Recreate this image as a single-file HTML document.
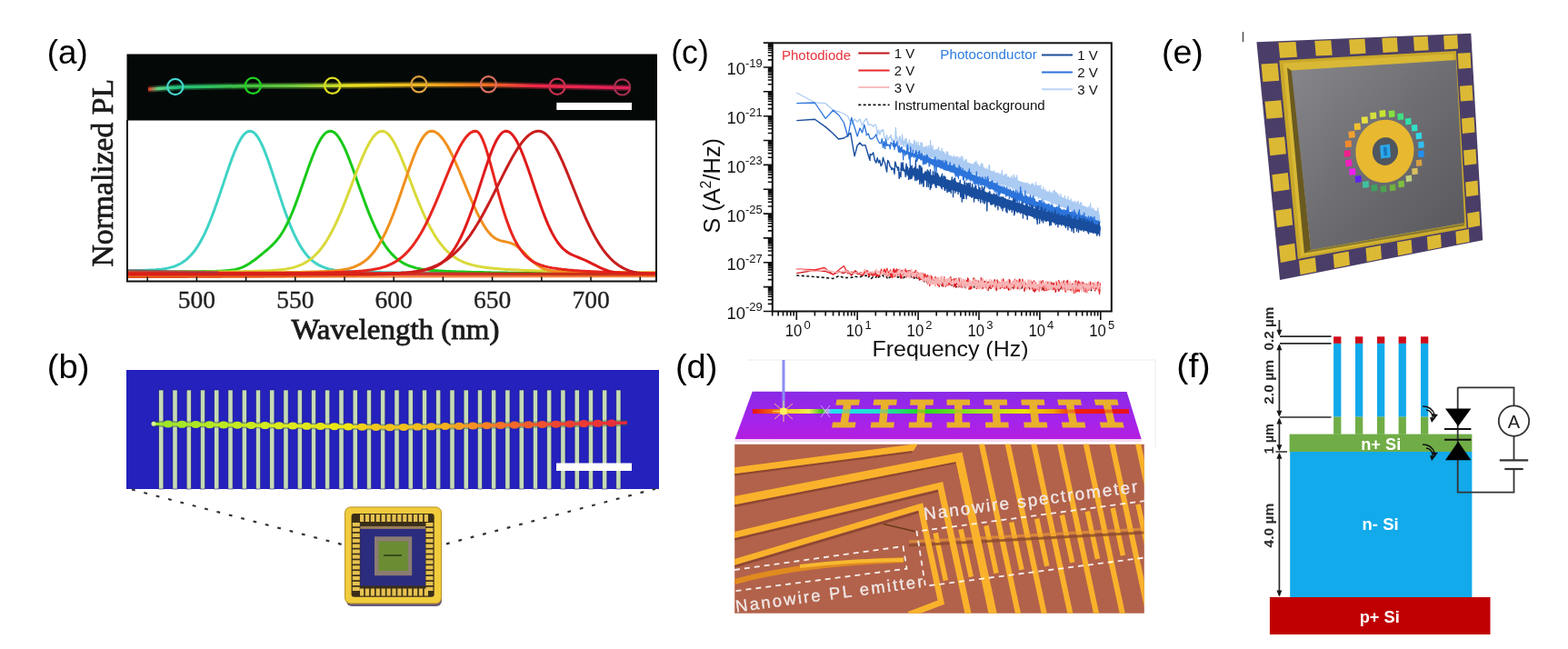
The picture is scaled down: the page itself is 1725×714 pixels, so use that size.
<!DOCTYPE html>
<html><head><meta charset="utf-8"><title>Figure</title>
<style>
html,body{margin:0;padding:0;background:#fff;}
body{width:1725px;height:714px;overflow:hidden;}
svg{display:block;}
</style></head><body>
<svg width="1725" height="714" viewBox="0 0 1725 714">
<rect width="1725" height="714" fill="#fff"/>
<rect x="139.5" y="59.5" width="583.5" height="73" fill="#040907"/><defs><linearGradient id="wireA" x1="163" y1="0" x2="694" y2="0" gradientUnits="userSpaceOnUse"><stop offset="0" stop-color="#e03020"/><stop offset="0.02" stop-color="#60d080"/><stop offset="0.06" stop-color="#20c080"/><stop offset="0.2" stop-color="#40c040"/><stop offset="0.3" stop-color="#70c840"/><stop offset="0.42" stop-color="#e8e020"/><stop offset="0.58" stop-color="#f0b020"/><stop offset="0.7" stop-color="#f07020"/><stop offset="0.8" stop-color="#f02848"/><stop offset="1" stop-color="#e0205a"/></linearGradient></defs><path d="M163,98.3 L200,95.8 L278,94.5 L365,94.2 L461,93.2 L537,93.2 L613,95 L694,96.8" fill="none" stroke="url(#wireA)" stroke-width="7" stroke-opacity="0.35"/><path d="M163,98.3 L200,95.8 L278,94.5 L365,94.2 L461,93.2 L537,93.2 L613,95 L694,96.8" fill="none" stroke="url(#wireA)" stroke-width="3.5"/><circle cx="192.8" cy="95.5" r="8.6" fill="none" stroke="#45d6d0" stroke-width="2.2"/><circle cx="278.3" cy="94.3" r="8.6" fill="none" stroke="#22d022" stroke-width="2.2"/><circle cx="365.7" cy="94.3" r="8.6" fill="none" stroke="#dede22" stroke-width="2.2"/><circle cx="460.9" cy="92.8" r="8.6" fill="none" stroke="#dca040" stroke-width="2.2"/><circle cx="537.4" cy="92.8" r="8.6" fill="none" stroke="#d87060" stroke-width="2.2"/><circle cx="613" cy="95.2" r="8.6" fill="none" stroke="#c83050" stroke-width="2.2"/><circle cx="684.6" cy="95.9" r="8.6" fill="none" stroke="#a83050" stroke-width="2.2"/><rect x="612.3" y="112.9" width="82.7" height="8.1" fill="#fff"/><polyline points="141,297.7 143,297.7 145,297.7 147,297.7 149,297.6 151,297.6 153,297.5 155,297.5 157,297.4 159,297.4 161,297.3 163,297.2 165,297.1 167,297 169,296.9 171,296.8 173,296.6 175,296.4 177,296.2 179,295.9 181,295.7 183,295.3 185,294.9 187,294.4 189,293.9 191,293.3 193,292.6 195,291.7 197,290.8 199,289.7 201,288.5 203,287.1 205,285.6 207,283.8 209,281.8 211,279.7 213,277.3 215,274.6 217,271.7 219,268.5 221,265 223,261.3 225,257.3 227,252.9 229,248.4 231,243.5 233,238.4 235,233.1 237,227.6 239,221.9 241,216.1 243,210.1 245,204.1 247,198.1 249,192.1 251,186.2 253,180.5 255,175 257,169.7 259,164.8 261,160.3 263,156.2 265,152.7 267,149.7 269,147.3 271,145.6 273,144.6 275,144.2 277,144.6 279,145.7 281,147.5 283,150 285,153.1 287,156.9 289,161.2 291,165.9 293,171.1 295,176.6 297,182.3 299,188.3 301,194.4 303,200.6 305,206.8 307,213 309,219.1 311,225.1 313,230.9 315,236.5 317,241.8 319,247 321,251.8 323,256.4 325,260.6 327,264.6 329,268.2 331,271.6 333,274.7 335,277.5 337,280.1 339,282.4 341,284.4 343,286.3 345,287.9 347,289.4 349,290.6 351,291.8 353,292.7 355,293.6 357,294.4 359,295 361,295.6 363,296.1 365,296.5 367,296.9 369,297.2 371,297.4 373,297.7 375,297.9 377,298.1 379,298.2 381,298.4 383,298.5 385,298.6 387,298.7 389,298.8 391,298.9 393,299 395,299 397,299.1 399,299.1 401,299.2 403,299.3 405,299.3 407,299.4 409,299.4 411,299.5 413,299.5 415,299.5 417,299.6 419,299.6 421,299.7 423,299.7 425,299.7 427,299.8 429,299.8 431,299.8 433,299.9 435,299.9 437,299.9 439,300 441,300 443,300 445,300.1 447,300.1 449,300.1 451,300.2 453,300.2 455,300.2 457,300.2 459,300.3 461,300.3 463,300.3 465,300.3 467,300.4 469,300.4 471,300.4 473,300.4 475,300.5 477,300.5 479,300.5 481,300.5 483,300.5 485,300.6 487,300.6 489,300.6 491,300.6 493,300.7 495,300.7 497,300.7 499,300.7 501,300.7 503,300.8 505,300.8 507,300.8 509,300.8 511,300.8 513,300.8 515,300.9 517,300.9 519,300.9 521,300.9 523,300.9 525,301 527,301 529,301 531,301 533,301 535,301 537,301.1 539,301.1 541,301.1 543,301.1 545,301.1 547,301.1 549,301.2 551,301.2 553,301.2 555,301.2 557,301.2 559,301.2 561,301.3 563,301.3 565,301.3 567,301.3 569,301.3 571,301.3 573,301.3 575,301.4 577,301.4 579,301.4 581,301.4 583,301.4 585,301.4 587,301.5 589,301.5 591,301.5 593,301.5 595,301.5 597,301.5 599,301.5 601,301.6 603,301.6 605,301.6 607,301.6 609,301.6 611,301.6 613,301.6 615,301.7 617,301.7 619,301.7 621,301.7 623,301.7 625,301.7 627,301.7 629,301.8 631,301.8 633,301.8 635,301.8 637,301.8 639,301.8 641,301.8 643,301.9 645,301.9 647,301.9 649,301.9 651,301.9 653,301.9 655,301.9 657,302 659,302 661,302 663,302 665,302 667,302 669,302 671,302.1 673,302.1 675,302.1 677,302.1 679,302.1 681,302.1 683,302.1 685,302.1 687,302.2 689,302.2 691,302.2 693,302.2 695,302.2 697,302.2 699,302.2 701,302.3 703,302.3 705,302.3 707,302.3 709,302.3 711,302.3 713,302.3 715,302.3 717,302.4 719,302.4 721,302.4" fill="none" stroke="#3fd3c6" stroke-width="3" stroke-linejoin="round"/><polyline points="141,299 143,299 145,299 147,299 149,299 151,299 153,299 155,299 157,299 159,299 161,299 163,299 165,299 167,299 169,299 171,299 173,299 175,299 177,298.9 179,298.9 181,298.9 183,298.9 185,298.9 187,298.9 189,298.9 191,298.9 193,298.9 195,298.9 197,298.9 199,298.8 201,298.8 203,298.8 205,298.8 207,298.8 209,298.8 211,298.8 213,298.7 215,298.7 217,298.7 219,298.7 221,298.7 223,298.6 225,298.6 227,298.6 229,298.5 231,298.5 233,298.5 235,298.4 237,298.4 239,298.3 241,298.3 243,298.2 245,298.1 247,298 249,297.8 251,297.6 253,297.4 255,297.1 257,296.8 259,296.4 261,295.9 263,295.3 265,294.6 267,293.8 269,292.9 271,291.9 273,290.7 275,289.5 277,288.1 279,286.7 281,285.2 283,283.7 285,282.1 287,280.5 289,278.9 291,277.2 293,275.5 295,273.8 297,272 299,270.1 301,268.2 303,266 305,263.7 307,261.1 309,258.3 311,255.2 313,251.8 315,248 317,244 319,239.6 321,235 323,230.1 325,224.9 327,219.5 329,214 331,208.3 333,202.5 335,196.7 337,190.9 339,185.3 341,179.7 343,174.4 345,169.3 347,164.5 349,160.1 351,156.2 353,152.7 355,149.8 357,147.5 359,145.7 361,144.6 363,144.2 365,144.4 367,145.3 369,146.8 371,148.9 373,151.6 375,154.9 377,158.6 379,162.7 381,167.2 383,172.1 385,177.2 387,182.5 389,188 391,193.6 393,199.2 395,204.9 397,210.6 399,216.1 401,221.6 403,226.9 405,232.1 407,237.1 409,241.9 411,246.5 413,250.9 415,255 417,258.9 419,262.5 421,265.9 423,269.1 425,272 427,274.7 429,277.1 431,279.4 433,281.4 435,283.3 437,285 439,286.5 441,287.8 443,289.1 445,290.2 447,291.1 449,292 451,292.8 453,293.4 455,294 457,294.6 459,295.1 461,295.5 463,295.9 465,296.2 467,296.5 469,296.7 471,297 473,297.2 475,297.4 477,297.5 479,297.7 481,297.8 483,298 485,298.1 487,298.2 489,298.3 491,298.4 493,298.5 495,298.6 497,298.7 499,298.7 501,298.8 503,298.9 505,299 507,299 509,299.1 511,299.1 513,299.2 515,299.3 517,299.3 519,299.4 521,299.4 523,299.5 525,299.5 527,299.6 529,299.6 531,299.6 533,299.7 535,299.7 537,299.8 539,299.8 541,299.9 543,299.9 545,299.9 547,300 549,300 551,300 553,300.1 555,300.1 557,300.1 559,300.2 561,300.2 563,300.2 565,300.3 567,300.3 569,300.3 571,300.3 573,300.4 575,300.4 577,300.4 579,300.4 581,300.5 583,300.5 585,300.5 587,300.5 589,300.6 591,300.6 593,300.6 595,300.6 597,300.7 599,300.7 601,300.7 603,300.7 605,300.7 607,300.8 609,300.8 611,300.8 613,300.8 615,300.8 617,300.9 619,300.9 621,300.9 623,300.9 625,300.9 627,301 629,301 631,301 633,301 635,301 637,301 639,301.1 641,301.1 643,301.1 645,301.1 647,301.1 649,301.1 651,301.2 653,301.2 655,301.2 657,301.2 659,301.2 661,301.2 663,301.3 665,301.3 667,301.3 669,301.3 671,301.3 673,301.3 675,301.3 677,301.4 679,301.4 681,301.4 683,301.4 685,301.4 687,301.4 689,301.4 691,301.5 693,301.5 695,301.5 697,301.5 699,301.5 701,301.5 703,301.5 705,301.5 707,301.6 709,301.6 711,301.6 713,301.6 715,301.6 717,301.6 719,301.6 721,301.6" fill="none" stroke="#19c919" stroke-width="3" stroke-linejoin="round"/><polyline points="141,299.5 143,299.5 145,299.5 147,299.5 149,299.5 151,299.5 153,299.5 155,299.5 157,299.5 159,299.5 161,299.5 163,299.5 165,299.5 167,299.4 169,299.4 171,299.4 173,299.4 175,299.4 177,299.4 179,299.4 181,299.4 183,299.4 185,299.4 187,299.4 189,299.4 191,299.4 193,299.4 195,299.3 197,299.3 199,299.3 201,299.3 203,299.3 205,299.3 207,299.3 209,299.3 211,299.3 213,299.2 215,299.2 217,299.2 219,299.2 221,299.2 223,299.2 225,299.2 227,299.1 229,299.1 231,299.1 233,299.1 235,299.1 237,299.1 239,299 241,299 243,299 245,299 247,298.9 249,298.9 251,298.9 253,298.9 255,298.8 257,298.8 259,298.8 261,298.8 263,298.7 265,298.7 267,298.7 269,298.6 271,298.6 273,298.5 275,298.5 277,298.4 279,298.4 281,298.3 283,298.3 285,298.2 287,298.1 289,298.1 291,298 293,297.9 295,297.8 297,297.7 299,297.6 301,297.4 303,297.3 305,297.1 307,296.9 309,296.7 311,296.5 313,296.2 315,295.9 317,295.5 319,295.1 321,294.7 323,294.2 325,293.6 327,292.9 329,292.2 331,291.4 333,290.5 335,289.4 337,288.3 339,287 341,285.6 343,284.1 345,282.4 347,280.5 349,278.4 351,276.2 353,273.8 355,271.1 357,268.3 359,265.3 361,262 363,258.5 365,254.8 367,250.9 369,246.8 371,242.5 373,238 375,233.4 377,228.5 379,223.6 381,218.5 383,213.3 385,208.1 387,202.8 389,197.5 391,192.2 393,187 395,182 397,177 399,172.3 401,167.8 403,163.6 405,159.7 407,156.1 409,153 411,150.2 413,148 415,146.3 417,145 419,144.4 421,144.2 423,144.7 425,145.8 427,147.4 429,149.7 431,152.5 433,155.7 435,159.4 437,163.5 439,167.8 441,172.5 443,177.4 445,182.4 447,187.5 449,192.8 451,198 453,203.3 455,208.5 457,213.6 459,218.7 461,223.6 463,228.4 465,233 467,237.5 469,241.7 471,245.8 473,249.7 475,253.3 477,256.8 479,260.1 481,263.1 483,266 485,268.6 487,271.1 489,273.4 491,275.5 493,277.4 495,279.2 497,280.8 499,282.3 501,283.6 503,284.9 505,286 507,287 509,287.9 511,288.8 513,289.5 515,290.2 517,290.8 519,291.4 521,291.9 523,292.3 525,292.8 527,293.1 529,293.5 531,293.8 533,294.1 535,294.4 537,294.6 539,294.9 541,295.1 543,295.3 545,295.4 547,295.6 549,295.8 551,295.9 553,296.1 555,296.2 557,296.4 559,296.5 561,296.6 563,296.7 565,296.8 567,296.9 569,297 571,297.1 573,297.2 575,297.3 577,297.4 579,297.5 581,297.6 583,297.6 585,297.7 587,297.8 589,297.8 591,297.9 593,298 595,298 597,298.1 599,298.2 601,298.2 603,298.3 605,298.3 607,298.4 609,298.4 611,298.5 613,298.5 615,298.6 617,298.6 619,298.7 621,298.7 623,298.8 625,298.8 627,298.9 629,298.9 631,298.9 633,299 635,299 637,299 639,299.1 641,299.1 643,299.1 645,299.2 647,299.2 649,299.2 651,299.3 653,299.3 655,299.3 657,299.4 659,299.4 661,299.4 663,299.4 665,299.5 667,299.5 669,299.5 671,299.6 673,299.6 675,299.6 677,299.6 679,299.6 681,299.7 683,299.7 685,299.7 687,299.7 689,299.8 691,299.8 693,299.8 695,299.8 697,299.8 699,299.9 701,299.9 703,299.9 705,299.9 707,299.9 709,299.9 711,300 713,300 715,300 717,300 719,300 721,300" fill="none" stroke="#d9d93a" stroke-width="3" stroke-linejoin="round"/><polyline points="141,300.7 143,300.7 145,300.7 147,300.7 149,300.7 151,300.7 153,300.7 155,300.7 157,300.7 159,300.7 161,300.7 163,300.7 165,300.6 167,300.6 169,300.6 171,300.6 173,300.6 175,300.6 177,300.6 179,300.6 181,300.6 183,300.6 185,300.6 187,300.6 189,300.6 191,300.6 193,300.6 195,300.5 197,300.5 199,300.5 201,300.5 203,300.5 205,300.5 207,300.5 209,300.5 211,300.5 213,300.5 215,300.5 217,300.5 219,300.4 221,300.4 223,300.4 225,300.4 227,300.4 229,300.4 231,300.4 233,300.4 235,300.4 237,300.4 239,300.3 241,300.3 243,300.3 245,300.3 247,300.3 249,300.3 251,300.3 253,300.3 255,300.3 257,300.2 259,300.2 261,300.2 263,300.2 265,300.2 267,300.2 269,300.2 271,300.1 273,300.1 275,300.1 277,300.1 279,300.1 281,300.1 283,300 285,300 287,300 289,300 291,300 293,299.9 295,299.9 297,299.9 299,299.9 301,299.8 303,299.8 305,299.8 307,299.8 309,299.7 311,299.7 313,299.7 315,299.6 317,299.6 319,299.6 321,299.6 323,299.5 325,299.5 327,299.4 329,299.4 331,299.4 333,299.3 335,299.3 337,299.2 339,299.2 341,299.1 343,299.1 345,299 347,299 349,298.9 351,298.8 353,298.7 355,298.7 357,298.6 359,298.5 361,298.4 363,298.2 365,298.1 367,297.9 369,297.8 371,297.6 373,297.3 375,297.1 377,296.8 379,296.4 381,296 383,295.6 385,295.1 387,294.5 389,293.8 391,293 393,292.2 395,291.2 397,290.1 399,288.8 401,287.4 403,285.8 405,284.1 407,282.1 409,279.9 411,277.5 413,274.9 415,272.1 417,268.9 419,265.6 421,261.9 423,258 425,253.9 427,249.4 429,244.8 431,239.8 433,234.7 435,229.4 437,223.9 439,218.2 441,212.5 443,206.6 445,200.7 447,194.9 449,189.1 451,183.4 453,177.9 455,172.6 457,167.6 459,162.9 461,158.7 463,154.9 465,151.6 467,148.9 469,146.7 471,145.2 473,144.4 475,144.2 477,144.5 479,145.3 481,146.5 483,148.2 485,150.2 487,152.7 489,155.5 491,158.6 493,162 495,165.8 497,169.7 499,173.9 501,178.3 503,182.9 505,187.5 507,192.3 509,197.1 511,201.9 513,206.8 515,211.6 517,216.4 519,221.1 521,225.6 523,230 525,234.3 527,238.3 529,242.2 531,245.8 533,249.1 535,252.1 537,254.8 539,257.1 541,259.2 543,260.9 545,262.3 547,263.4 549,264.2 551,264.9 553,265.3 555,265.8 557,266.1 559,266.6 561,267.1 563,267.8 565,268.7 567,269.8 569,271.2 571,272.7 573,274.5 575,276.4 577,278.4 579,280.5 581,282.6 583,284.6 585,286.6 587,288.4 589,290.1 591,291.6 593,293 595,294.1 597,295.1 599,296 601,296.6 603,297.2 605,297.6 607,298 609,298.3 611,298.5 613,298.7 615,298.8 617,298.9 619,299 621,299.1 623,299.2 625,299.2 627,299.3 629,299.3 631,299.3 633,299.4 635,299.4 637,299.4 639,299.5 641,299.5 643,299.5 645,299.5 647,299.6 649,299.6 651,299.6 653,299.6 655,299.6 657,299.7 659,299.7 661,299.7 663,299.7 665,299.7 667,299.7 669,299.8 671,299.8 673,299.8 675,299.8 677,299.8 679,299.8 681,299.8 683,299.8 685,299.8 687,299.9 689,299.9 691,299.9 693,299.9 695,299.9 697,299.9 699,299.9 701,299.9 703,299.9 705,299.9 707,299.9 709,300 711,300 713,300 715,300 717,300 719,300 721,300" fill="none" stroke="#f0901e" stroke-width="3" stroke-linejoin="round"/><polyline points="141,301.6 143,301.6 145,301.6 147,301.6 149,301.6 151,301.6 153,301.6 155,301.6 157,301.6 159,301.5 161,301.5 163,301.5 165,301.5 167,301.5 169,301.5 171,301.5 173,301.5 175,301.5 177,301.5 179,301.5 181,301.5 183,301.5 185,301.5 187,301.5 189,301.5 191,301.5 193,301.4 195,301.4 197,301.4 199,301.4 201,301.4 203,301.4 205,301.4 207,301.4 209,301.4 211,301.4 213,301.4 215,301.4 217,301.4 219,301.4 221,301.3 223,301.3 225,301.3 227,301.3 229,301.3 231,301.3 233,301.3 235,301.3 237,301.3 239,301.3 241,301.3 243,301.2 245,301.2 247,301.2 249,301.2 251,301.2 253,301.2 255,301.2 257,301.2 259,301.1 261,301.1 263,301.1 265,301.1 267,301.1 269,301.1 271,301.1 273,301.1 275,301 277,301 279,301 281,301 283,301 285,301 287,300.9 289,300.9 291,300.9 293,300.9 295,300.9 297,300.9 299,300.8 301,300.8 303,300.8 305,300.8 307,300.7 309,300.7 311,300.7 313,300.7 315,300.7 317,300.6 319,300.6 321,300.6 323,300.5 325,300.5 327,300.5 329,300.5 331,300.4 333,300.4 335,300.4 337,300.3 339,300.3 341,300.3 343,300.2 345,300.2 347,300.1 349,300.1 351,300.1 353,300 355,300 357,299.9 359,299.9 361,299.8 363,299.8 365,299.7 367,299.7 369,299.6 371,299.5 373,299.5 375,299.4 377,299.3 379,299.2 381,299.2 383,299.1 385,299 387,298.9 389,298.7 391,298.6 393,298.5 395,298.3 397,298.2 399,298 401,297.8 403,297.6 405,297.3 407,297.1 409,296.8 411,296.4 413,296 415,295.6 417,295.2 419,294.7 421,294.1 423,293.5 425,292.8 427,292 429,291.1 431,290.2 433,289.1 435,288 437,286.7 439,285.3 441,283.8 443,282.2 445,280.4 447,278.4 449,276.3 451,274 453,271.6 455,269 457,266.2 459,263.2 461,260 463,256.7 465,253.2 467,249.5 469,245.6 471,241.5 473,237.3 475,232.9 477,228.4 479,223.8 481,219.1 483,214.3 485,209.4 487,204.5 489,199.5 491,194.6 493,189.7 495,184.9 497,180.2 499,175.6 501,171.2 503,167.1 505,163.1 507,159.5 509,156.1 511,153.1 513,150.5 515,148.4 517,146.6 519,145.3 521,144.5 523,144.2 525,144.7 527,146.5 529,149.5 531,153.6 533,158.7 535,164.6 537,171.2 539,178.2 541,185.5 543,192.9 545,200.4 547,207.8 549,215.1 551,222.1 553,228.8 555,235.2 557,241.2 559,246.8 561,252.1 563,256.9 565,261.3 567,265.3 569,268.9 571,272.2 573,275.1 575,277.7 577,280 579,282.1 581,283.9 583,285.5 585,286.9 587,288.1 589,289.2 591,290.1 593,290.9 595,291.7 597,292.3 599,292.9 601,293.4 603,293.9 605,294.3 607,294.7 609,295 611,295.3 613,295.6 615,295.9 617,296.1 619,296.4 621,296.6 623,296.8 625,297 627,297.2 629,297.3 631,297.5 633,297.7 635,297.8 637,297.9 639,298.1 641,298.2 643,298.3 645,298.4 647,298.5 649,298.6 651,298.7 653,298.8 655,298.9 657,299 659,299.1 661,299.2 663,299.3 665,299.3 667,299.4 669,299.5 671,299.5 673,299.6 675,299.7 677,299.7 679,299.8 681,299.8 683,299.9 685,299.9 687,300 689,300 691,300.1 693,300.1 695,300.2 697,300.2 699,300.2 701,300.3 703,300.3 705,300.4 707,300.4 709,300.4 711,300.5 713,300.5 715,300.5 717,300.5 719,300.6 721,300.6" fill="none" stroke="#e8261e" stroke-width="3" stroke-linejoin="round"/><polyline points="141,303.3 143,303.3 145,303.3 147,303.3 149,303.3 151,303.2 153,303.2 155,303.2 157,303.2 159,303.2 161,303.2 163,303.2 165,303.2 167,303.2 169,303.2 171,303.2 173,303.2 175,303.2 177,303.2 179,303.2 181,303.2 183,303.2 185,303.1 187,303.1 189,303.1 191,303.1 193,303.1 195,303.1 197,303.1 199,303.1 201,303.1 203,303.1 205,303.1 207,303.1 209,303.1 211,303.1 213,303 215,303 217,303 219,303 221,303 223,303 225,303 227,303 229,303 231,303 233,303 235,303 237,303 239,302.9 241,302.9 243,302.9 245,302.9 247,302.9 249,302.9 251,302.9 253,302.9 255,302.9 257,302.9 259,302.9 261,302.9 263,302.8 265,302.8 267,302.8 269,302.8 271,302.8 273,302.8 275,302.8 277,302.8 279,302.8 281,302.8 283,302.7 285,302.7 287,302.7 289,302.7 291,302.7 293,302.7 295,302.7 297,302.7 299,302.7 301,302.6 303,302.6 305,302.6 307,302.6 309,302.6 311,302.6 313,302.6 315,302.5 317,302.5 319,302.5 321,302.5 323,302.5 325,302.5 327,302.5 329,302.4 331,302.4 333,302.4 335,302.4 337,302.4 339,302.4 341,302.3 343,302.3 345,302.3 347,302.3 349,302.3 351,302.2 353,302.2 355,302.2 357,302.2 359,302.2 361,302.1 363,302.1 365,302.1 367,302.1 369,302 371,302 373,302 375,302 377,301.9 379,301.9 381,301.9 383,301.8 385,301.8 387,301.8 389,301.7 391,301.7 393,301.7 395,301.6 397,301.6 399,301.6 401,301.5 403,301.5 405,301.4 407,301.4 409,301.3 411,301.3 413,301.3 415,301.2 417,301.1 419,301.1 421,301 423,301 425,300.9 427,300.8 429,300.8 431,300.7 433,300.6 435,300.5 437,300.5 439,300.4 441,300.3 443,300.1 445,300 447,299.9 449,299.8 451,299.6 453,299.4 455,299.2 457,299 459,298.8 461,298.5 463,298.2 465,297.8 467,297.4 469,296.9 471,296.4 473,295.8 475,295.1 477,294.3 479,293.4 481,292.4 483,291.2 485,289.9 487,288.4 489,286.7 491,284.8 493,282.8 495,280.4 497,277.9 499,275 501,272 503,268.6 505,264.9 507,261 509,256.7 511,252.2 513,247.4 515,242.3 517,236.9 519,231.4 521,225.6 523,219.6 525,213.5 527,207.3 529,201.1 531,194.9 533,188.7 535,182.7 537,176.9 539,171.3 541,166 543,161.2 545,156.8 547,153 549,149.9 551,147.3 553,145.5 555,144.5 557,144.2 559,144.6 561,145.7 563,147.5 565,149.9 567,152.8 569,156.3 571,160.3 573,164.7 575,169.6 577,174.7 579,180.2 581,185.8 583,191.6 585,197.5 587,203.5 589,209.4 591,215.3 593,221.1 595,226.7 597,232.2 599,237.4 601,242.4 603,247.1 605,251.5 607,255.6 609,259.3 611,262.7 613,265.8 615,268.5 617,271 619,273.1 621,274.9 623,276.5 625,277.9 627,279.1 629,280.1 631,281 633,281.9 635,282.7 637,283.5 639,284.3 641,285.1 643,286 645,286.9 647,287.8 649,288.8 651,289.8 653,290.8 655,291.8 657,292.9 659,293.8 661,294.8 663,295.7 665,296.5 667,297.2 669,297.9 671,298.5 673,299 675,299.5 677,299.9 679,300.2 681,300.5 683,300.7 685,300.9 687,301 689,301.1 691,301.2 693,301.3 695,301.4 697,301.4 699,301.5 701,301.5 703,301.6 705,301.6 707,301.6 709,301.6 711,301.7 713,301.7 715,301.7 717,301.7 719,301.7 721,301.7" fill="none" stroke="#e01a1a" stroke-width="3" stroke-linejoin="round"/><polyline points="141,304.6 143,304.6 145,304.6 147,304.6 149,304.6 151,304.6 153,304.6 155,304.6 157,304.6 159,304.6 161,304.6 163,304.6 165,304.5 167,304.5 169,304.5 171,304.5 173,304.5 175,304.5 177,304.5 179,304.5 181,304.5 183,304.5 185,304.5 187,304.4 189,304.4 191,304.4 193,304.4 195,304.4 197,304.4 199,304.4 201,304.4 203,304.4 205,304.4 207,304.3 209,304.3 211,304.3 213,304.3 215,304.3 217,304.3 219,304.3 221,304.3 223,304.3 225,304.3 227,304.2 229,304.2 231,304.2 233,304.2 235,304.2 237,304.2 239,304.2 241,304.2 243,304.2 245,304.1 247,304.1 249,304.1 251,304.1 253,304.1 255,304.1 257,304.1 259,304.1 261,304 263,304 265,304 267,304 269,304 271,304 273,304 275,304 277,303.9 279,303.9 281,303.9 283,303.9 285,303.9 287,303.9 289,303.9 291,303.8 293,303.8 295,303.8 297,303.8 299,303.8 301,303.8 303,303.7 305,303.7 307,303.7 309,303.7 311,303.7 313,303.7 315,303.6 317,303.6 319,303.6 321,303.6 323,303.6 325,303.5 327,303.5 329,303.5 331,303.5 333,303.5 335,303.4 337,303.4 339,303.4 341,303.4 343,303.4 345,303.3 347,303.3 349,303.3 351,303.3 353,303.2 355,303.2 357,303.2 359,303.2 361,303.1 363,303.1 365,303.1 367,303.1 369,303 371,303 373,303 375,302.9 377,302.9 379,302.9 381,302.9 383,302.8 385,302.8 387,302.8 389,302.7 391,302.7 393,302.6 395,302.6 397,302.6 399,302.5 401,302.5 403,302.4 405,302.4 407,302.3 409,302.3 411,302.2 413,302.2 415,302.1 417,302 419,302 421,301.9 423,301.8 425,301.7 427,301.6 429,301.5 431,301.4 433,301.3 435,301.2 437,301 439,300.9 441,300.7 443,300.6 445,300.4 447,300.2 449,299.9 451,299.7 453,299.4 455,299.1 457,298.8 459,298.4 461,298 463,297.6 465,297.1 467,296.6 469,296.1 471,295.5 473,294.8 475,294.1 477,293.3 479,292.5 481,291.6 483,290.6 485,289.6 487,288.4 489,287.2 491,285.9 493,284.5 495,283 497,281.4 499,279.7 501,277.8 503,275.9 505,273.9 507,271.7 509,269.4 511,267 513,264.5 515,261.8 517,259.1 519,256.2 521,253.2 523,250 525,246.8 527,243.4 529,240 531,236.4 533,232.8 535,229 537,225.2 539,221.4 541,217.4 543,213.5 545,209.5 547,205.4 549,201.4 551,197.4 553,193.4 555,189.4 557,185.5 559,181.7 561,177.9 563,174.3 565,170.8 567,167.4 569,164.2 571,161.2 573,158.3 575,155.7 577,153.3 579,151.2 581,149.3 583,147.7 585,146.4 587,145.4 589,144.7 591,144.3 593,144.2 595,144.5 597,145.3 599,146.4 601,148 603,150 605,152.4 607,155.2 609,158.3 611,161.8 613,165.5 615,169.5 617,173.8 619,178.2 621,182.8 623,187.6 625,192.5 627,197.5 629,202.5 631,207.5 633,212.5 635,217.5 637,222.5 639,227.4 641,232.1 643,236.8 645,241.3 647,245.6 649,249.8 651,253.9 653,257.7 655,261.4 657,264.8 659,268.1 661,271.2 663,274.1 665,276.8 667,279.3 669,281.6 671,283.8 673,285.8 675,287.6 677,289.3 679,290.8 681,292.2 683,293.4 685,294.6 687,295.6 689,296.5 691,297.3 693,298.1 695,298.7 697,299.3 699,299.8 701,300.3 703,300.7 705,301 707,301.3 709,301.6 711,301.8 713,302 715,302.2 717,302.4 719,302.5 721,302.6" fill="none" stroke="#c81e1e" stroke-width="3" stroke-linejoin="round"/><path d="M141,300.5 C250,301.5 450,302.5 721,302" stroke="#d82018" stroke-width="4" fill="none" opacity="0.9"/><path d="M141,297.5 C180,298 200,299 240,299.5" stroke="#a03048" stroke-width="2.5" fill="none" opacity="0.7"/><path d="M141,304.5 C250,305 450,304.5 721,304" stroke="#f06a1a" stroke-width="2.5" fill="none" opacity="0.8"/><path d="M140,132 V309.5 H722 V132" fill="none" stroke="#111" stroke-width="2"/><path d="M162.2,309.5 v-5 M216.4,309.5 v-5 M270.6,309.5 v-5 M324.8,309.5 v-5 M379,309.5 v-5 M433.2,309.5 v-5 M487.4,309.5 v-5 M541.6,309.5 v-5 M595.8,309.5 v-5 M650,309.5 v-5 M704.2,309.5 v-5" stroke="#111" stroke-width="1.5"/><text x="216.4" y="339" text-anchor="middle" font-family="'Liberation Serif', 'Times New Roman', serif" font-size="27.5" fill="#222" stroke="#222" stroke-width="0.35">500</text><text x="324.8" y="339" text-anchor="middle" font-family="'Liberation Serif', 'Times New Roman', serif" font-size="27.5" fill="#222" stroke="#222" stroke-width="0.35">550</text><text x="433.2" y="339" text-anchor="middle" font-family="'Liberation Serif', 'Times New Roman', serif" font-size="27.5" fill="#222" stroke="#222" stroke-width="0.35">600</text><text x="541.6" y="339" text-anchor="middle" font-family="'Liberation Serif', 'Times New Roman', serif" font-size="27.5" fill="#222" stroke="#222" stroke-width="0.35">650</text><text x="650" y="339" text-anchor="middle" font-family="'Liberation Serif', 'Times New Roman', serif" font-size="27.5" fill="#222" stroke="#222" stroke-width="0.35">700</text><text x="320.4" y="373.3" font-family="'Liberation Serif', 'Times New Roman', serif" font-size="32" fill="#1a1a1a" stroke="#1a1a1a" stroke-width="0.85" textLength="229" lengthAdjust="spacingAndGlyphs">Wavelength (nm)</text><text transform="translate(124.4,293.5) rotate(-90)" x="0" y="0" font-family="'Liberation Serif', 'Times New Roman', serif" font-size="33" fill="#1a1a1a" stroke="#1a1a1a" stroke-width="0.7" textLength="206.5" lengthAdjust="spacingAndGlyphs">Normalized PL</text><rect x="139" y="407" width="586" height="131" fill="#2421bd"/><g fill="#c6dab4" stroke="#1a1a80" stroke-width="0.6"><rect x="174.7" y="429" width="5.2" height="109"/><rect x="189.9" y="429" width="5.2" height="109"/><rect x="205.2" y="429" width="5.2" height="109"/><rect x="220.4" y="429" width="5.2" height="109"/><rect x="235.7" y="429" width="5.2" height="109"/><rect x="250.9" y="429" width="5.2" height="109"/><rect x="266.2" y="429" width="5.2" height="109"/><rect x="281.4" y="429" width="5.2" height="109"/><rect x="296.7" y="429" width="5.2" height="109"/><rect x="311.9" y="429" width="5.2" height="109"/><rect x="327.2" y="429" width="5.2" height="109"/><rect x="342.4" y="429" width="5.2" height="109"/><rect x="357.6" y="429" width="5.2" height="109"/><rect x="372.9" y="429" width="5.2" height="109"/><rect x="388.1" y="429" width="5.2" height="109"/><rect x="403.4" y="429" width="5.2" height="109"/><rect x="418.6" y="429" width="5.2" height="109"/><rect x="433.9" y="429" width="5.2" height="109"/><rect x="449.1" y="429" width="5.2" height="109"/><rect x="464.4" y="429" width="5.2" height="109"/><rect x="479.6" y="429" width="5.2" height="109"/><rect x="494.9" y="429" width="5.2" height="109"/><rect x="510.1" y="429" width="5.2" height="109"/><rect x="525.3" y="429" width="5.2" height="109"/><rect x="540.6" y="429" width="5.2" height="109"/><rect x="555.8" y="429" width="5.2" height="109"/><rect x="571.1" y="429" width="5.2" height="109"/><rect x="586.3" y="429" width="5.2" height="109"/><rect x="601.6" y="429" width="5.2" height="109"/><rect x="616.8" y="429" width="5.2" height="109"/><rect x="632.1" y="429" width="5.2" height="109"/><rect x="647.3" y="429" width="5.2" height="109"/><rect x="662.6" y="429" width="5.2" height="109"/><rect x="677.8" y="429" width="5.2" height="109"/></g><defs><linearGradient id="wireB" x1="167" y1="0" x2="690" y2="0" gradientUnits="userSpaceOnUse"><stop offset="0" stop-color="#96e628"/><stop offset="0.25" stop-color="#d7eb1e"/><stop offset="0.42" stop-color="#f0e614"/><stop offset="0.45" stop-color="#f0c81e"/><stop offset="0.6" stop-color="#f5b91e"/><stop offset="0.72" stop-color="#f57828"/><stop offset="0.85" stop-color="#f04632"/><stop offset="1" stop-color="#e6283c"/></linearGradient></defs><path d="M168,466.3 L395,469.6 L430,470.2 L690,465.2" fill="none" stroke="#3a5a30" stroke-width="7" opacity="0.45"/><path d="M168,466.3 L395,469.6 L430,470.2 L690,465.2" fill="none" stroke="url(#wireB)" stroke-width="3.2"/><g><ellipse cx="184.9" cy="466.5" rx="5.8" ry="4" fill="#9ee626"/><ellipse cx="200.2" cy="466.8" rx="5.8" ry="4" fill="#a6e725"/><ellipse cx="215.4" cy="467" rx="5.8" ry="4" fill="#ade724"/><ellipse cx="230.7" cy="467.2" rx="5.8" ry="4" fill="#b5e823"/><ellipse cx="245.9" cy="467.4" rx="5.8" ry="4" fill="#bce822"/><ellipse cx="261.1" cy="467.7" rx="5.8" ry="4" fill="#c4e920"/><ellipse cx="276.4" cy="467.9" rx="5.8" ry="4" fill="#cbea1f"/><ellipse cx="291.6" cy="468.1" rx="5.8" ry="4" fill="#d3ea1e"/><ellipse cx="306.9" cy="468.3" rx="5.8" ry="4" fill="#d9ea1d"/><ellipse cx="322.1" cy="468.5" rx="5.8" ry="4" fill="#dde91b"/><ellipse cx="337.4" cy="468.8" rx="5.8" ry="4" fill="#e1e819"/><ellipse cx="352.6" cy="469" rx="5.8" ry="4" fill="#e6e717"/><ellipse cx="367.9" cy="469.2" rx="5.8" ry="4" fill="#eae716"/><ellipse cx="383.1" cy="469.4" rx="5.8" ry="4" fill="#eee614"/><ellipse cx="398.4" cy="469.7" rx="5.8" ry="4" fill="#f0d01b"/><ellipse cx="413.6" cy="469.9" rx="5.8" ry="4" fill="#f0c51e"/><ellipse cx="428.9" cy="470.2" rx="5.8" ry="4" fill="#f1c31e"/><ellipse cx="444.1" cy="469.9" rx="5.8" ry="4" fill="#f2c01e"/><ellipse cx="459.3" cy="469.6" rx="5.8" ry="4" fill="#f3bd1e"/><ellipse cx="474.6" cy="469.3" rx="5.8" ry="4" fill="#f4ba1e"/><ellipse cx="489.8" cy="469" rx="5.8" ry="4" fill="#f5b01f"/><ellipse cx="505.1" cy="468.8" rx="5.8" ry="4" fill="#f5a021"/><ellipse cx="520.3" cy="468.5" rx="5.8" ry="4" fill="#f59024"/><ellipse cx="535.6" cy="468.2" rx="5.8" ry="4" fill="#f58026"/><ellipse cx="550.8" cy="467.9" rx="5.8" ry="4" fill="#f47229"/><ellipse cx="566.1" cy="467.6" rx="5.8" ry="4" fill="#f3672b"/><ellipse cx="581.3" cy="467.3" rx="5.8" ry="4" fill="#f25c2d"/><ellipse cx="596.5" cy="467" rx="5.8" ry="4" fill="#f1512f"/><ellipse cx="611.8" cy="466.7" rx="5.8" ry="4" fill="#ef4532"/><ellipse cx="627" cy="466.4" rx="5.8" ry="4" fill="#ee4033"/><ellipse cx="642.3" cy="466.1" rx="5.8" ry="4" fill="#ec3a35"/><ellipse cx="657.5" cy="465.8" rx="5.8" ry="4" fill="#ea3437"/><ellipse cx="672.8" cy="465.5" rx="5.8" ry="4" fill="#e82e39"/></g><circle cx="169" cy="466.3" r="2.5" fill="#d8ff90"/><rect x="612" y="509.5" width="83" height="8.5" fill="#fff"/><path d="M145,538.5 L376,599" stroke="#333" stroke-width="2.2" stroke-dasharray="3.8,10" fill="none"/><path d="M491,598.4 L721,537.8" stroke="#333" stroke-width="2.2" stroke-dasharray="3.8,10" fill="none"/><rect x="381" y="561" width="105" height="106" rx="6" fill="#6b5a78"/><rect x="379.6" y="557.9" width="105.9" height="106" rx="6" fill="#f0cc3c" stroke="#b89020" stroke-width="1"/><rect x="386.6" y="564.9" width="91.1" height="91.9" rx="3" fill="#3a2e18"/><g fill="#e6c250"><rect x="396" y="566" width="4.2" height="8"/><rect x="396" y="647.5" width="4.2" height="8"/><rect x="401.9" y="566" width="4.2" height="8"/><rect x="401.9" y="647.5" width="4.2" height="8"/><rect x="407.8" y="566" width="4.2" height="8"/><rect x="407.8" y="647.5" width="4.2" height="8"/><rect x="413.7" y="566" width="4.2" height="8"/><rect x="413.7" y="647.5" width="4.2" height="8"/><rect x="419.6" y="566" width="4.2" height="8"/><rect x="419.6" y="647.5" width="4.2" height="8"/><rect x="425.5" y="566" width="4.2" height="8"/><rect x="425.5" y="647.5" width="4.2" height="8"/><rect x="431.4" y="566" width="4.2" height="8"/><rect x="431.4" y="647.5" width="4.2" height="8"/><rect x="437.3" y="566" width="4.2" height="8"/><rect x="437.3" y="647.5" width="4.2" height="8"/><rect x="443.2" y="566" width="4.2" height="8"/><rect x="443.2" y="647.5" width="4.2" height="8"/><rect x="449.1" y="566" width="4.2" height="8"/><rect x="449.1" y="647.5" width="4.2" height="8"/><rect x="455" y="566" width="4.2" height="8"/><rect x="455" y="647.5" width="4.2" height="8"/><rect x="460.9" y="566" width="4.2" height="8"/><rect x="460.9" y="647.5" width="4.2" height="8"/><rect x="466.8" y="566" width="4.2" height="8"/><rect x="466.8" y="647.5" width="4.2" height="8"/><rect x="387.8" y="575" width="8" height="4.2"/><rect x="468.5" y="575" width="8" height="4.2"/><rect x="387.8" y="580.9" width="8" height="4.2"/><rect x="468.5" y="580.9" width="8" height="4.2"/><rect x="387.8" y="586.8" width="8" height="4.2"/><rect x="468.5" y="586.8" width="8" height="4.2"/><rect x="387.8" y="592.7" width="8" height="4.2"/><rect x="468.5" y="592.7" width="8" height="4.2"/><rect x="387.8" y="598.6" width="8" height="4.2"/><rect x="468.5" y="598.6" width="8" height="4.2"/><rect x="387.8" y="604.5" width="8" height="4.2"/><rect x="468.5" y="604.5" width="8" height="4.2"/><rect x="387.8" y="610.4" width="8" height="4.2"/><rect x="468.5" y="610.4" width="8" height="4.2"/><rect x="387.8" y="616.3" width="8" height="4.2"/><rect x="468.5" y="616.3" width="8" height="4.2"/><rect x="387.8" y="622.2" width="8" height="4.2"/><rect x="468.5" y="622.2" width="8" height="4.2"/><rect x="387.8" y="628.1" width="8" height="4.2"/><rect x="468.5" y="628.1" width="8" height="4.2"/><rect x="387.8" y="634" width="8" height="4.2"/><rect x="468.5" y="634" width="8" height="4.2"/><rect x="387.8" y="639.9" width="8" height="4.2"/><rect x="468.5" y="639.9" width="8" height="4.2"/><rect x="387.8" y="645.8" width="8" height="4.2"/><rect x="468.5" y="645.8" width="8" height="4.2"/></g><rect x="396.3" y="578.9" width="71.7" height="65.6" fill="#2c2c7e"/><rect x="396.3" y="578.9" width="71.7" height="3" fill="#c8a048" opacity="0.7"/><rect x="412" y="590.3" width="41.2" height="42.9" fill="#8a7c72"/><rect x="416.4" y="595.5" width="32.4" height="32.5" fill="#6c8c34"/><path d="M422,611 h20" stroke="#2a3a10" stroke-width="1.5"/><defs><clipPath id="clipC"><rect x="849.8" y="47.3" width="373.0" height="295.2"/></clipPath></defs><g clip-path="url(#clipC)" fill="none" stroke-linejoin="round"><polyline points="876.3,303 896.4,304.5 908.2,305.5 916.6,306.5 923.1,303.5 928.4,305.6 937.7,305.3 938.9,304 942.3,304.5 945.3,304.9 948,304 950.4,303.7 952.7,302.9 954.8,305.6 956.7,303.3 958.6,306.3 960.3,304.8 961.9,304.9 963.4,305.2 964.9,302.9 966.2,305.1 967.6,304.1 968.8,304.7 970,303.7 971.2,302.8 972.4,304.9 973.6,304.4 974.8,304 976,305.8 977.2,304.1 978.4,305.5 979.6,304.5 980.8,304.7 982,304.9 983.2,303.5 984.4,303.7 985.6,305.2 986.8,304.8 988,305.1 989.2,304.4 990.4,306.2 991.6,304.6 992.8,303.6 994,305.8 995.2,304.5 996.4,304.3 997.6,302.9 998.8,302.3 1000,303.7 1001.2,302.5 1002.4,304.7 1003.6,302.9 1004.8,305.1 1006,306.1 1007.2,304 1008.4,305.8 1009.6,305.9 1010.8,304.6 1012,305.8 1013.2,306.5 1014.4,305.9 1015.6,307.6 1016.8,309.7 1018,308.9 1019.2,308.3 1020.4,311.1 1021.6,311.5 1022.8,309.7 1024,310 1025.2,308.8 1026.4,309.5 1027.6,309.7 1028.8,309.2 1030,310.1 1031.2,311.3 1032.4,311 1033.6,310.7 1034.8,310.6 1036,314 1037.2,311.9 1038.4,310.1 1039.6,311.3 1040.8,312.3 1042,312.4 1043.2,311.7 1044.4,311.6 1045.6,314 1046.8,314.3 1048,312 1049.2,312.9 1050.4,314 1051.6,312.2 1052.8,315.4 1054,315.1 1055.2,315 1056.4,313.1 1057.6,312.3 1058.8,312.2 1060,313.9 1061.2,315 1062.4,316.4 1063.6,314.9 1064.8,312.8 1066,312.7 1067.2,315.5 1068.4,315.1 1069.6,315.4 1070.8,313.7 1072,316.1 1073.2,315 1074.4,314.4 1075.6,314.8 1076.8,315.4 1078,315.4 1079.2,314.3 1080.4,312.8 1081.6,316.4 1082.8,314.6 1084,316.3 1085.2,314.5 1086.4,312.7 1087.6,316.4 1088.8,316 1090,315.7 1091.2,315 1092.4,313.8 1093.6,314.6 1094.8,314.2 1096,315.2 1097.2,314.6 1098.4,316.4 1099.6,316 1100.8,315.3 1102,314.1 1103.2,314.4 1104.4,314.8 1105.6,314.5 1106.8,316.1 1108,315.1 1109.2,316.3 1110.4,314.7 1111.6,314.4 1112.8,316.3 1114,316.4 1115.2,316.5 1116.4,316 1117.6,316.2 1118.8,315.7 1120,316.8 1121.2,317.3 1122.4,316.4 1123.6,317.2 1124.8,315.9 1126,314.9 1127.2,314.3 1128.4,315.4 1129.6,317.8 1130.8,315.8 1132,315.7 1133.2,318.3 1134.4,316.7 1135.6,316 1136.8,318.4 1138,315.3 1139.2,316 1140.4,315.2 1141.6,315.8 1142.8,316.5 1144,314.9 1145.2,316.9 1146.4,316.7 1147.6,318.5 1148.8,315.1 1150,316.2 1151.2,315.2 1152.4,317.6 1153.6,317 1154.8,317 1156,317.6 1157.2,314.8 1158.4,317.2 1159.6,317 1160.8,318.1 1162,316.9 1163.2,316.9 1164.4,316.6 1165.6,318.4 1166.8,315.7 1168,316.7 1169.2,315.5 1170.4,315.4 1171.6,316.4 1172.8,317.5 1174,316.6 1175.2,315.9 1176.4,315.7 1177.6,318.2 1178.8,316.7 1180,317.7 1181.2,318.3 1182.4,318.5 1183.6,317.5 1184.8,319.4 1186,318.2 1187.2,318.7 1188.4,317.2 1189.6,315.8 1190.8,317.5 1192,316.5 1193.2,317.8 1194.4,319.4 1195.6,316.9 1196.8,317.5 1198,317.1 1199.2,318.7 1200.4,319.5 1201.6,318.8 1202.8,317.4 1204,316.8 1205.2,318.3 1206.4,317.7 1207.6,316.6 1208.8,317.2 1210,316.2" stroke="#111" stroke-width="1.6" stroke-dasharray="3,2.5"/><polyline points="876.3,300.6 896.4,297.4 908.2,298.5 916.6,302 923.1,299 928.4,300.5 932.8,298 936.7,303 940.1,299 940.8,297.7 944,300.6 946.8,302.2 949.4,303.2 951.7,298.7 953.9,300.9 955.9,302.2 957.8,299.6 959.5,303.1 961.2,303.3 962.7,298.5 964.2,302.2 965.6,303.9 967,303.1 968.3,302.5 969.5,296.3 970.7,297.6 971.8,300.2 972.9,301.6 973.9,302.3 974.9,297.6 975.9,303.7 976.8,300.8 977.8,299 978.6,300.5 979.5,296.8 980.3,300.2 981.1,304.8 981.9,299.9 982.7,301.6 983.4,302.9 984.2,299 984.9,297.1 985.6,301 986.3,298.2 987,296.7 987.7,302.9 988.4,300.5 989.1,300.6 989.8,298.3 990.5,301.3 991.2,306.3 991.9,297.6 992.6,305.6 993.3,299.1 994,301.8 994.7,299.6 995.4,298.8 996.1,301.4 996.8,302.9 997.5,304.5 998.2,301.7 998.9,297.9 999.6,297.8 1000.3,299.4 1001,297.7 1001.7,301.9 1002.4,299.4 1003.1,300.7 1003.8,305.1 1004.5,302.2 1005.2,299.6 1005.9,305.1 1006.6,300.3 1007.3,297.5 1008,301.8 1008.7,303.9 1009.4,299.6 1010.1,301.1 1010.8,305.5 1011.5,308.2 1012.2,307.5 1012.9,307.4 1013.6,302.9 1014.3,305.9 1015,307.7 1015.7,300.8 1016.4,305.9 1017.1,304.6 1017.8,306.4 1018.5,308 1019.2,306.4 1019.9,306.6 1020.6,302.6 1021.3,308.3 1022,305.8 1022.7,314.4 1023.4,305.5 1024.1,303.6 1024.8,304.9 1025.5,305.5 1026.2,312.3 1026.9,310.3 1027.6,308.8 1028.3,307.2 1029,304.6 1029.7,310.1 1030.4,310.4 1031.1,310.1 1031.8,306.1 1032.5,308.5 1033.2,315.5 1033.9,309 1034.6,307.9 1035.3,312.6 1036,306.9 1036.7,312.4 1037.4,315.1 1038.1,311.8 1038.8,304.7 1039.5,311.8 1040.2,315.3 1040.9,313.5 1041.6,310.5 1042.3,309.1 1043,311.7 1043.7,310.2 1044.4,306 1045.1,313.2 1045.8,304.6 1046.5,311.6 1047.2,308 1047.9,308 1048.6,309.2 1049.3,315.6 1050,313.8 1050.7,307.3 1051.4,316.3 1052.1,306.3 1052.8,312.7 1053.5,309 1054.2,316 1054.9,306 1055.6,309.8 1056.3,310.8 1057,315.8 1057.7,309.6 1058.4,314 1059.1,312.3 1059.8,311.8 1060.5,313.9 1061.2,309.6 1061.9,309.3 1062.6,316.7 1063.3,308.6 1064,313.5 1064.7,306 1065.4,308 1066.1,318.1 1066.8,317.7 1067.5,314.2 1068.2,313.1 1068.9,310.6 1069.6,312.6 1070.3,310 1071,306 1071.7,309.5 1072.4,312.9 1073.1,313.6 1073.8,313.7 1074.5,314.3 1075.2,308.8 1075.9,314.6 1076.6,309.1 1077.3,311.9 1078,314.2 1078.7,311 1079.4,305.7 1080.1,313.9 1080.8,317.5 1081.5,309.6 1082.2,317 1082.9,312.4 1083.6,309.5 1084.3,310.8 1085,316.8 1085.7,312.4 1086.4,310.5 1087.1,319.6 1087.8,310 1088.5,312.2 1089.2,313.6 1089.9,316.9 1090.6,317.3 1091.3,312.3 1092,310.4 1092.7,311.8 1093.4,312.5 1094.1,307.7 1094.8,309.8 1095.5,315.3 1096.2,319.6 1096.9,308 1097.6,309.9 1098.3,314.2 1099,310.4 1099.7,315.3 1100.4,317.6 1101.1,311.5 1101.8,314.1 1102.5,312.7 1103.2,312.7 1103.9,309.3 1104.6,313.5 1105.3,312.5 1106,316.2 1106.7,311.2 1107.4,316.8 1108.1,314 1108.8,315.5 1109.5,319.1 1110.2,308.2 1110.9,308.1 1111.6,317.6 1112.3,315.7 1113,315.8 1113.7,313.7 1114.4,313.8 1115.1,315.1 1115.8,310.3 1116.5,308.5 1117.2,312.4 1117.9,312.4 1118.6,308.5 1119.3,312.5 1120,309.9 1120.7,316.3 1121.4,307.2 1122.1,313.2 1122.8,311.6 1123.5,312.6 1124.2,311.4 1124.9,315.7 1125.6,312.8 1126.3,312 1127,320.4 1127.7,310.4 1128.4,313.3 1129.1,313.1 1129.8,315.7 1130.5,316.1 1131.2,311 1131.9,310.6 1132.6,318.2 1133.3,311.7 1134,313 1134.7,309.6 1135.4,317.5 1136.1,310.9 1136.8,320 1137.5,308.9 1138.2,321.2 1138.9,310.5 1139.6,316.5 1140.3,318.2 1141,314 1141.7,314.2 1142.4,316.1 1143.1,314.3 1143.8,311.3 1144.5,313.5 1145.2,309.4 1145.9,319.1 1146.6,311.2 1147.3,312.7 1148,314 1148.7,315.5 1149.4,313.9 1150.1,314.4 1150.8,315.1 1151.5,313.5 1152.2,311.7 1152.9,312.3 1153.6,318.7 1154.3,311.7 1155,311.3 1155.7,311.1 1156.4,311 1157.1,311.1 1157.8,312.4 1158.5,318.6 1159.2,311.3 1159.9,313.7 1160.6,315.4 1161.3,321.3 1162,319 1162.7,316.1 1163.4,318.2 1164.1,315.4 1164.8,320.4 1165.5,310.3 1166.2,314.2 1166.9,316.2 1167.6,314.6 1168.3,318.2 1169,310.8 1169.7,313.6 1170.4,308.9 1171.1,315.7 1171.8,319.5 1172.5,314.6 1173.2,312.3 1173.9,315 1174.6,318.4 1175.3,318.7 1176,315.9 1176.7,315.3 1177.4,315.6 1178.1,319.6 1178.8,316.1 1179.5,312.2 1180.2,313.6 1180.9,315.8 1181.6,320.1 1182.3,317.2 1183,309.9 1183.7,308.9 1184.4,315.7 1185.1,318.5 1185.8,310.3 1186.5,312.8 1187.2,310.4 1187.9,311.2 1188.6,313.9 1189.3,313.8 1190,316.2 1190.7,316 1191.4,310.7 1192.1,313.4 1192.8,320.7 1193.5,312.9 1194.2,312.9 1194.9,314.9 1195.6,316.3 1196.3,320.9 1197,316.8 1197.7,312.3 1198.4,312.9 1199.1,314.4 1199.8,312.3 1200.5,316.4 1201.2,314.3 1201.9,317 1202.6,315.7 1203.3,312.8 1204,315.4 1204.7,319.8 1205.4,314.7 1206.1,317.6 1206.8,317.4 1207.5,310.7 1208.2,310.2 1208.9,316.6 1209.6,320.2 1210.3,315.8" stroke="#d0141c" stroke-width="1.3"/><polyline points="876.3,296 896.4,297 907,294.5 916.6,302 928.4,292.6 932.8,301 936.7,299 940.1,300 940.8,300 944,301.6 946.8,299.6 949.4,301.1 951.7,299.6 953.9,297.5 955.9,303.9 957.8,300.7 959.5,301.4 961.2,301.1 962.7,302.1 964.2,303.9 965.6,302.1 967,303.5 968.3,301.3 969.5,299.8 970.7,299.5 971.8,300.4 972.9,295.8 973.9,300.7 974.9,297.6 975.9,295.2 976.8,302.4 977.8,303.1 978.6,298.6 979.5,301.7 980.3,304.8 981.1,300.2 981.9,305.7 982.7,296.6 983.4,295.6 984.2,304.6 984.9,303.4 985.6,300.2 986.3,295.9 987,300.5 987.7,299.2 988.4,296.4 989.1,300.7 989.8,298.9 990.5,303.6 991.2,303.6 991.9,297.4 992.6,302.1 993.3,301.1 994,299.3 994.7,300.6 995.4,300.8 996.1,295.9 996.8,305.4 997.5,297.8 998.2,302.7 998.9,298.9 999.6,302 1000.3,302.2 1001,297.8 1001.7,302.2 1002.4,299.4 1003.1,300.1 1003.8,304.1 1004.5,300.9 1005.2,299.8 1005.9,301.2 1006.6,301.1 1007.3,298.5 1008,304.8 1008.7,304.2 1009.4,300.8 1010.1,304.9 1010.8,305.9 1011.5,301.4 1012.2,303.9 1012.9,306.8 1013.6,301.8 1014.3,307.1 1015,302.2 1015.7,306.1 1016.4,302.1 1017.1,309.5 1017.8,301.4 1018.5,303.5 1019.2,304.5 1019.9,303.6 1020.6,312.1 1021.3,308 1022,304.2 1022.7,313.5 1023.4,309.5 1024.1,307.5 1024.8,304.1 1025.5,305 1026.2,310.4 1026.9,310.5 1027.6,309.9 1028.3,307.5 1029,310.4 1029.7,311.8 1030.4,311.8 1031.1,307 1031.8,313.9 1032.5,313.1 1033.2,313.6 1033.9,310.5 1034.6,309.4 1035.3,306.3 1036,313.6 1036.7,309.1 1037.4,309.2 1038.1,310.4 1038.8,314.7 1039.5,309 1040.2,311.6 1040.9,313.8 1041.6,307.3 1042.3,310.1 1043,314 1043.7,308.2 1044.4,312.6 1045.1,311.9 1045.8,313.4 1046.5,313.5 1047.2,310.1 1047.9,312.1 1048.6,311.8 1049.3,306.7 1050,308.7 1050.7,306.9 1051.4,312.2 1052.1,308.4 1052.8,311.1 1053.5,315 1054.2,311.7 1054.9,308.6 1055.6,310.9 1056.3,315 1057,312 1057.7,313.2 1058.4,311.8 1059.1,316.7 1059.8,310.2 1060.5,309.5 1061.2,313.5 1061.9,312.9 1062.6,309.3 1063.3,309.2 1064,310 1064.7,308.5 1065.4,310.5 1066.1,312.7 1066.8,312.3 1067.5,318.1 1068.2,311.3 1068.9,317.5 1069.6,312 1070.3,309.6 1071,312 1071.7,311.6 1072.4,306.6 1073.1,312.4 1073.8,308.6 1074.5,317.7 1075.2,312.9 1075.9,315.4 1076.6,316.7 1077.3,317.2 1078,311.6 1078.7,314.6 1079.4,315 1080.1,311.2 1080.8,307.8 1081.5,309.2 1082.2,309.6 1082.9,312.5 1083.6,315.7 1084.3,311.5 1085,312.9 1085.7,316.5 1086.4,311.1 1087.1,313 1087.8,314.8 1088.5,310 1089.2,317.5 1089.9,315.2 1090.6,312.8 1091.3,312.3 1092,315.5 1092.7,314.4 1093.4,311.7 1094.1,315.2 1094.8,310.2 1095.5,312.8 1096.2,313.9 1096.9,314.7 1097.6,311.3 1098.3,316.7 1099,316.4 1099.7,310.4 1100.4,312.2 1101.1,316.3 1101.8,311.3 1102.5,316.4 1103.2,308.2 1103.9,307 1104.6,317.2 1105.3,316.6 1106,317.2 1106.7,315.1 1107.4,315.5 1108.1,312.5 1108.8,314.3 1109.5,312.3 1110.2,307.4 1110.9,318.6 1111.6,313.6 1112.3,318.1 1113,312 1113.7,311.3 1114.4,311.5 1115.1,317.9 1115.8,310.6 1116.5,307.1 1117.2,316.5 1117.9,316.3 1118.6,309 1119.3,317.6 1120,317.1 1120.7,309.9 1121.4,312.5 1122.1,307.3 1122.8,311.3 1123.5,314.4 1124.2,313.4 1124.9,307.2 1125.6,313.5 1126.3,313.2 1127,312.4 1127.7,318.2 1128.4,312.4 1129.1,316.4 1129.8,316.9 1130.5,315.6 1131.2,311.8 1131.9,311.3 1132.6,313.1 1133.3,314.3 1134,314.2 1134.7,310.5 1135.4,313.6 1136.1,314.9 1136.8,313.6 1137.5,314.1 1138.2,314.5 1138.9,315.4 1139.6,319.8 1140.3,313.1 1141,314.4 1141.7,318.3 1142.4,313.7 1143.1,320.5 1143.8,313.5 1144.5,316.7 1145.2,314.7 1145.9,318.1 1146.6,315 1147.3,308.6 1148,314.4 1148.7,319.8 1149.4,313.4 1150.1,319.7 1150.8,313.2 1151.5,319.5 1152.2,319.1 1152.9,310.1 1153.6,317.2 1154.3,314.1 1155,315.8 1155.7,316.8 1156.4,312 1157.1,314.6 1157.8,316.6 1158.5,313.8 1159.2,314.7 1159.9,318.4 1160.6,317.8 1161.3,315.2 1162,309.9 1162.7,313.8 1163.4,314.2 1164.1,314.2 1164.8,308.5 1165.5,317.7 1166.2,312.8 1166.9,314.4 1167.6,314.4 1168.3,311.3 1169,315.1 1169.7,317.7 1170.4,313.6 1171.1,316.6 1171.8,320.5 1172.5,321.1 1173.2,309.5 1173.9,310.2 1174.6,308.3 1175.3,318.4 1176,318.3 1176.7,314.9 1177.4,315.1 1178.1,315.8 1178.8,313.8 1179.5,319.8 1180.2,315.7 1180.9,312.2 1181.6,322.7 1182.3,309.5 1183,312.2 1183.7,321.6 1184.4,314.4 1185.1,319.2 1185.8,320.3 1186.5,309.1 1187.2,320.8 1187.9,315.2 1188.6,318.2 1189.3,311 1190,310.6 1190.7,312.7 1191.4,310.7 1192.1,313.1 1192.8,314.9 1193.5,315.3 1194.2,316.8 1194.9,321.5 1195.6,312.4 1196.3,315.8 1197,319.3 1197.7,314 1198.4,318 1199.1,313.9 1199.8,310.1 1200.5,317.8 1201.2,315.9 1201.9,313.3 1202.6,311.3 1203.3,317.2 1204,313.2 1204.7,317.6 1205.4,316.6 1206.1,315.5 1206.8,315 1207.5,314.1 1208.2,311.7 1208.9,318.8 1209.6,323.3 1210.3,311.2" stroke="#ec2a2e" stroke-width="1.3"/><polyline points="876.3,296 896.4,298.5 908.2,297 916.6,299 923.1,300 928.4,298 936.7,300 940.1,301 940.4,299.8 943.6,300.1 946.5,300.1 949.1,300.8 951.4,296.2 953.6,301.9 955.7,298.5 957.5,300.9 959.3,298.9 961,300.1 962.6,299.9 964.1,296.3 965.5,300.9 966.8,297.8 968.1,302 969.3,302.4 970.5,296.8 971.7,301.2 972.7,299.4 973.8,301.3 974.8,304.1 975.8,298 976.7,302.6 977.7,301.3 978.5,300.7 979.4,298.2 980.2,300.4 981,298.1 981.8,300.4 982.6,299.8 983.4,304.3 984.1,300.8 984.8,301.4 985.5,300.3 986.2,303.1 986.8,301 987.5,298.4 988.1,301.8 988.7,296.9 989.3,301.1 989.9,296 990.5,300.2 991.1,298.7 991.6,301.3 992.2,299.7 992.7,304 993.3,296.3 993.8,300.8 994.3,297.5 994.8,298.3 995.3,303.4 995.8,299.3 996.2,300.4 996.7,305.1 997.2,299.8 997.6,302.9 998.1,302.8 998.5,301.5 998.9,298.5 999.4,303.3 999.8,305 1000.2,304.7 1000.6,298.5 1001,306 1001.4,299.1 1001.8,300.9 1002.2,298.7 1002.6,300.6 1002.9,296.2 1003.3,305.2 1003.7,304.3 1004,305 1004.4,300.5 1004.8,300.5 1005.1,300.8 1005.4,303.9 1005.8,300.6 1006.1,301.2 1006.5,303 1006.8,301.4 1007.1,300.2 1007.4,304.7 1007.8,300.5 1008.1,300.4 1008.4,298 1008.7,300.7 1009,299.8 1009.3,300.6 1009.6,305.5 1009.9,304.3 1010.2,302.6 1010.5,303.3 1010.8,303.8 1011.1,300.8 1011.4,302 1011.7,303.5 1012,300 1012.3,304.5 1012.6,304.3 1012.9,305.8 1013.2,304.7 1013.5,299.7 1013.8,306.4 1014.1,301.3 1014.4,305.8 1014.7,300.8 1015,309.3 1015.3,302 1015.6,305.4 1015.9,308.2 1016.2,307.6 1016.5,308.6 1016.8,307.2 1017.1,308.9 1017.4,306.2 1017.7,305.3 1018,308.4 1018.3,309.2 1018.6,306.4 1018.9,310.6 1019.2,306.6 1019.5,306.2 1019.8,307 1020.1,306.7 1020.4,305.3 1020.7,311.3 1021,307 1021.3,304.3 1021.6,305.9 1021.9,305.7 1022.2,309.4 1022.5,312.3 1022.8,309.2 1023.1,310.4 1023.4,302.4 1023.7,308.9 1024,313 1024.3,312.1 1024.6,309.1 1024.9,309.4 1025.2,308.7 1025.5,311 1025.8,310.4 1026.1,305.7 1026.4,308.9 1026.7,312.1 1027,312.1 1027.3,309.6 1027.6,311.4 1027.9,311.5 1028.2,305.9 1028.5,314.5 1028.8,306.9 1029.1,313.2 1029.4,314.7 1029.7,311.4 1030,305.8 1030.3,309.6 1030.6,305.3 1030.9,311 1031.2,311.8 1031.5,307.4 1031.8,310.9 1032.1,309.6 1032.4,305 1032.7,312.5 1033,308.8 1033.3,310.1 1033.6,309.2 1033.9,313.3 1034.2,309.7 1034.5,305 1034.8,308.9 1035.1,305 1035.4,312.2 1035.7,312.7 1036,303.7 1036.3,310.6 1036.6,310.5 1036.9,306.2 1037.2,310.1 1037.5,309.6 1037.8,309 1038.1,309.7 1038.4,313.8 1038.7,310.6 1039,305.4 1039.3,315.6 1039.6,311.7 1039.9,311.1 1040.2,314.2 1040.5,313.4 1040.8,307.8 1041.1,310 1041.4,311.7 1041.7,312.3 1042,306.4 1042.3,307.4 1042.6,312.3 1042.9,308.3 1043.2,310 1043.5,306.9 1043.8,310.3 1044.1,307.9 1044.4,307 1044.7,305.7 1045,310.8 1045.3,309.8 1045.6,306.4 1045.9,310.5 1046.2,312.7 1046.5,310.6 1046.8,311.4 1047.1,313.2 1047.4,312 1047.7,309.1 1048,308.1 1048.3,310.8 1048.6,314.4 1048.9,308.4 1049.2,309.8 1049.5,311.1 1049.8,311.5 1050.1,311.4 1050.4,311.5 1050.7,310.4 1051,307.6 1051.3,311.4 1051.6,311.2 1051.9,309 1052.2,310.4 1052.5,307 1052.8,308.2 1053.1,310.3 1053.4,309.3 1053.7,316.2 1054,316.6 1054.3,307.4 1054.6,309.5 1054.9,311.7 1055.2,312.1 1055.5,311.3 1055.8,313 1056.1,310.4 1056.4,311.9 1056.7,314.8 1057,305.4 1057.3,307.3 1057.6,309.6 1057.9,307.3 1058.2,310.6 1058.5,314.7 1058.8,311.7 1059.1,312.7 1059.4,307.5 1059.7,316.2 1060,307.4 1060.3,315.2 1060.6,307.1 1060.9,311.3 1061.2,312.9 1061.5,310.9 1061.8,312.7 1062.1,316 1062.4,307.7 1062.7,314.6 1063,316.4 1063.3,316 1063.6,312.7 1063.9,310.4 1064.2,311.7 1064.5,312.5 1064.8,310.8 1065.1,315.7 1065.4,310.8 1065.7,316.4 1066,310.7 1066.3,308.1 1066.6,309.5 1066.9,308.3 1067.2,314.8 1067.5,308.6 1067.8,311.9 1068.1,314.2 1068.4,313.5 1068.7,310.2 1069,313.3 1069.3,314.4 1069.6,311.1 1069.9,312.7 1070.2,316.4 1070.5,308.1 1070.8,309.3 1071.1,307.7 1071.4,311.6 1071.7,309.3 1072,310.9 1072.3,309.1 1072.6,306 1072.9,317.5 1073.2,311 1073.5,316.1 1073.8,309.6 1074.1,309.8 1074.4,309.3 1074.7,316.3 1075,316.3 1075.3,311.7 1075.6,308.1 1075.9,311 1076.2,313.4 1076.5,311.2 1076.8,317.8 1077.1,312.1 1077.4,316.4 1077.7,309.1 1078,313.5 1078.3,311.9 1078.6,313.9 1078.9,307.5 1079.2,313.9 1079.5,316.2 1079.8,318.4 1080.1,312.5 1080.4,308.8 1080.7,310.2 1081,311.5 1081.3,315.4 1081.6,306.5 1081.9,310 1082.2,310.7 1082.5,317.5 1082.8,314.1 1083.1,312.2 1083.4,312.2 1083.7,311.1 1084,316.1 1084.3,313.1 1084.6,310.8 1084.9,312 1085.2,307.7 1085.5,311.2 1085.8,318.8 1086.1,318.6 1086.4,316.8 1086.7,311.8 1087,314.7 1087.3,311.8 1087.6,315.8 1087.9,312.4 1088.2,314.3 1088.5,307.3 1088.8,313.6 1089.1,311 1089.4,312.5 1089.7,312.4 1090,312.5 1090.3,307.9 1090.6,315.9 1090.9,312.6 1091.2,308.3 1091.5,311.3 1091.8,313.2 1092.1,311.5 1092.4,310.3 1092.7,310.6 1093,309.3 1093.3,315 1093.6,314.8 1093.9,312 1094.2,317.9 1094.5,312.4 1094.8,309.9 1095.1,316.6 1095.4,312.3 1095.7,311.8 1096,310.2 1096.3,310.2 1096.6,309.6 1096.9,313.9 1097.2,316.6 1097.5,316 1097.8,318.5 1098.1,312.4 1098.4,313.8 1098.7,316.6 1099,309.5 1099.3,317.8 1099.6,311.4 1099.9,311 1100.2,315.5 1100.5,313.3 1100.8,312.6 1101.1,310.6 1101.4,316 1101.7,307 1102,312.5 1102.3,311.3 1102.6,313 1102.9,309.8 1103.2,316.1 1103.5,316.7 1103.8,312.9 1104.1,309.6 1104.4,315.8 1104.7,312 1105,313.2 1105.3,313.7 1105.6,310.6 1105.9,314.9 1106.2,316.6 1106.5,309.1 1106.8,314 1107.1,310.7 1107.4,310 1107.7,313.6 1108,311.5 1108.3,310.4 1108.6,308.8 1108.9,316.4 1109.2,307.6 1109.5,312.9 1109.8,311.7 1110.1,312.1 1110.4,316.8 1110.7,313.5 1111,315.7 1111.3,317.9 1111.6,315.3 1111.9,310.9 1112.2,318.1 1112.5,317.8 1112.8,313.9 1113.1,315.2 1113.4,313.3 1113.7,313.1 1114,309.2 1114.3,315.6 1114.6,312.4 1114.9,309.8 1115.2,309.8 1115.5,312.6 1115.8,312.8 1116.1,312.6 1116.4,308.1 1116.7,310.8 1117,315.5 1117.3,315.5 1117.6,317.1 1117.9,308.3 1118.2,317.6 1118.5,314.5 1118.8,315.7 1119.1,310.4 1119.4,314.8 1119.7,308.5 1120,309.6 1120.3,313.1 1120.6,310.8 1120.9,316.9 1121.2,312.5 1121.5,318.6 1121.8,311.4 1122.1,318.5 1122.4,310 1122.7,311.7 1123,317.3 1123.3,314.6 1123.6,314.2 1123.9,314.1 1124.2,313.8 1124.5,310 1124.8,311.4 1125.1,312.5 1125.4,312.7 1125.7,310.1 1126,317.2 1126.3,314.1 1126.6,316.2 1126.9,309.7 1127.2,308.8 1127.5,312.8 1127.8,315.5 1128.1,314.7 1128.4,315.3 1128.7,313.4 1129,313.8 1129.3,317.2 1129.6,314.5 1129.9,319.2 1130.2,312 1130.5,317.2 1130.8,307.8 1131.1,314.8 1131.4,314.9 1131.7,315.5 1132,312.8 1132.3,308 1132.6,310.8 1132.9,312.1 1133.2,316.1 1133.5,309.2 1133.8,318.6 1134.1,308.2 1134.4,314.1 1134.7,317.4 1135,313.9 1135.3,315.9 1135.6,315.6 1135.9,312.9 1136.2,312 1136.5,315.9 1136.8,311.4 1137.1,316.4 1137.4,318.1 1137.7,310.4 1138,311.9 1138.3,310.1 1138.6,316.9 1138.9,316.2 1139.2,312.6 1139.5,314.3 1139.8,315.1 1140.1,318.2 1140.4,311.4 1140.7,316.8 1141,313.1 1141.3,314.5 1141.6,317.5 1141.9,314.8 1142.2,315.2 1142.5,314.5 1142.8,320.3 1143.1,309.4 1143.4,314.8 1143.7,313.7 1144,313.4 1144.3,309 1144.6,312.6 1144.9,316.1 1145.2,318.5 1145.5,314.4 1145.8,314.5 1146.1,312.4 1146.4,312.4 1146.7,311 1147,314.4 1147.3,315.7 1147.6,311.5 1147.9,311.2 1148.2,313.4 1148.5,313.5 1148.8,311.6 1149.1,313.3 1149.4,316.3 1149.7,315.7 1150,318.8 1150.3,310.5 1150.6,309.7 1150.9,311.2 1151.2,314.2 1151.5,310 1151.8,316.9 1152.1,315.1 1152.4,319.3 1152.7,318.7 1153,312.5 1153.3,317.3 1153.6,312.9 1153.9,311.3 1154.2,314.5 1154.5,318.3 1154.8,313.6 1155.1,311.8 1155.4,309.7 1155.7,319 1156,314.3 1156.3,314.7 1156.6,316 1156.9,316.6 1157.2,312.8 1157.5,317.2 1157.8,318.8 1158.1,313.6 1158.4,315.5 1158.7,315.4 1159,315.6 1159.3,314.6 1159.6,315.9 1159.9,313.5 1160.2,315.9 1160.5,316.1 1160.8,314.7 1161.1,310.1 1161.4,318 1161.7,315.1 1162,315.1 1162.3,314.7 1162.6,315.5 1162.9,319.9 1163.2,314.1 1163.5,316.3 1163.8,314.3 1164.1,310.5 1164.4,310.9 1164.7,317.1 1165,311.5 1165.3,317.6 1165.6,315.8 1165.9,316.8 1166.2,314.2 1166.5,315.2 1166.8,313.1 1167.1,312.8 1167.4,310.6 1167.7,313.2 1168,309.4 1168.3,314.8 1168.6,311.8 1168.9,314.4 1169.2,318.5 1169.5,312.2 1169.8,317.9 1170.1,310.7 1170.4,313.6 1170.7,315 1171,315.4 1171.3,316.1 1171.6,314.7 1171.9,315.8 1172.2,319.9 1172.5,315.3 1172.8,310.7 1173.1,316 1173.4,315.2 1173.7,319.8 1174,312.3 1174.3,314.5 1174.6,316.9 1174.9,317.7 1175.2,314.6 1175.5,317.5 1175.8,318 1176.1,311.1 1176.4,316.8 1176.7,319 1177,310.4 1177.3,314.4 1177.6,309.3 1177.9,317.4 1178.2,313.3 1178.5,316.6 1178.8,313.3 1179.1,315.2 1179.4,321 1179.7,315.3 1180,314.1 1180.3,315.2 1180.6,311.9 1180.9,312.1 1181.2,318.2 1181.5,314.7 1181.8,310.6 1182.1,320.1 1182.4,316.1 1182.7,309.9 1183,314.6 1183.3,315 1183.6,314.9 1183.9,315.3 1184.2,318.7 1184.5,310.8 1184.8,314.9 1185.1,314.5 1185.4,315.8 1185.7,315.4 1186,318.2 1186.3,318.2 1186.6,317.7 1186.9,311.7 1187.2,313.1 1187.5,314.9 1187.8,313.8 1188.1,318.9 1188.4,317.6 1188.7,317.9 1189,311.9 1189.3,315.3 1189.6,316.4 1189.9,309.7 1190.2,320.8 1190.5,316 1190.8,316.7 1191.1,314.3 1191.4,313.7 1191.7,314.6 1192,312.1 1192.3,314.8 1192.6,313.5 1192.9,317.2 1193.2,315.5 1193.5,321.2 1193.8,311.4 1194.1,315.7 1194.4,313.9 1194.7,312.4 1195,316.7 1195.3,314.1 1195.6,315.3 1195.9,322.3 1196.2,319 1196.5,313 1196.8,317.4 1197.1,315.8 1197.4,318.2 1197.7,316.7 1198,310.1 1198.3,316.9 1198.6,316.2 1198.9,315.4 1199.2,319.8 1199.5,317.8 1199.8,313.6 1200.1,314.2 1200.4,315.7 1200.7,315.5 1201,311.2 1201.3,313.3 1201.6,318.2 1201.9,316.2 1202.2,312.5 1202.5,313.9 1202.8,313.7 1203.1,313.8 1203.4,314.6 1203.7,316.6 1204,317.1 1204.3,318.4 1204.6,310.4 1204.9,315.8 1205.2,316.1 1205.5,312.9 1205.8,313.7 1206.1,315 1206.4,313 1206.7,311.1 1207,316.7 1207.3,318.8 1207.6,315.6 1207.9,318 1208.2,317.8 1208.5,315.8 1208.8,311.7 1209.1,311.8 1209.4,314.6 1209.7,315.8 1210,314.6 1210.3,318.7" stroke="#f8b4b4" stroke-width="1.3"/><polygon points="990,154.4 993,155.2 996,156 999,156.9 1002,157.7 1005,158.5 1008,159.3 1011,160.1 1014,161 1017,161.8 1020,162.6 1023,163.4 1026,164.3 1029,165.1 1032,166.1 1035,167.3 1038,168.5 1041,169.6 1044,170.8 1047,171.9 1050,173.1 1053,174.2 1056,175.4 1059,176.5 1062,177.6 1065,178.7 1068,179.8 1071,180.9 1074,182 1077,183 1080,184.1 1083,185.2 1086,186.3 1089,187.3 1092,188.4 1095,189.5 1098,190.6 1101,191.7 1104,192.7 1107,193.8 1110,194.9 1113,196 1116,197.1 1119,198.1 1122,199.2 1125,200.3 1128,201.4 1131,202.5 1134,203.5 1137,204.6 1140,205.7 1143,206.9 1146,208.1 1149,209.3 1152,210.5 1155,211.7 1158,212.8 1161,214 1164,215.2 1167,216.4 1170,217.6 1173,218.8 1176,220 1179,221.2 1182,222.4 1185,223.6 1188,224.8 1191,226 1194,227.1 1197,228.3 1200,229.5 1203,230.7 1206,231.9 1209,233.1 1209,244.1 1206,242.9 1203,241.7 1200,240.5 1197,239.3 1194,238.1 1191,236.8 1188,235.6 1185,234.4 1182,233.2 1179,232 1176,230.8 1173,229.6 1170,228.4 1167,227.2 1164,226 1161,224.8 1158,223.6 1155,222.3 1152,221.1 1149,219.9 1146,218.7 1143,217.5 1140,216.3 1137,215.2 1134,214.1 1131,213 1128,211.9 1125,210.8 1122,209.7 1119,208.6 1116,207.5 1113,206.4 1110,205.3 1107,204.3 1104,203.2 1101,202.1 1098,201 1095,199.9 1092,198.8 1089,197.7 1086,196.6 1083,195.5 1080,194.4 1077,193.3 1074,192.2 1071,191.1 1068,190 1065,188.9 1062,187.8 1059,186.7 1056,185.5 1053,184.4 1050,183.2 1047,182 1044,180.8 1041,179.7 1038,178.5 1035,177.3 1032,176.2 1029,174.9 1026,173.4 1023,171.9 1020,170.4 1017,168.9 1014,167.4 1011,165.9 1008,164.4 1005,162.9 1002,161.4 999,159.9 996,158.4 993,156.9 990,155.4" fill="#abcbf3" stroke="none"/><polyline points="876.3,102 896.4,112.8 908.2,113.7 916.6,121.3 923.1,123 928.4,125 932.8,128 936.7,137 940.1,131 943.2,134 946,131 948.5,138 950.8,133 951.1,133 953.3,130.3 955.3,137.3 957.3,137.1 959.1,137.4 960.7,139.3 962.3,137.2 963.8,137.6 965.3,148.5 966.6,142.8 967.9,148.2 969.2,143.3 970.3,144.4 971.5,142.4 972.6,149.6 973.6,152.8 974.7,152.1 975.6,148.6 976.6,154 977.5,153.3 978.4,150.7 979.3,151.3 980.1,148.3 980.9,154.6 981.7,152.5 982.5,155.9 983.2,154.2 984,156.6 984.7,156.5 985.4,140.3 986.1,152.4 986.7,150.9 987.4,157.5 988,153.9 988.6,158.5 989.2,152.1 989.8,149.9 990.4,151.3 991,159.8 991.6,159.6 992.1,157.3 992.6,148.1 993.2,154.3 993.7,160.2 994.2,161.1 994.7,155.6 995.2,156.2 995.7,152.9 996.2,161.1 996.6,156.2 997.1,152.4 997.5,159.7 998,169.3 998.4,157.6 998.9,159.4 999.3,160.2 999.7,164.7 1000.1,156.8 1000.5,153.9 1000.9,160.4 1001.3,161.9 1001.7,171.3 1002.1,159.7 1002.5,158 1002.9,164.9 1003.3,161.4 1003.6,161.8 1004,165.9 1004.3,160.9 1004.7,163.3 1005,166.3 1005.4,156.4 1005.7,154.1 1006.1,166.3 1006.4,155.8 1006.7,163.5 1007.1,163.2 1007.4,163.7 1007.7,157.8 1008,162.8 1008.3,156 1008.6,168.3 1008.9,164 1009.2,163.2 1009.5,164.1 1009.8,166.7 1010.1,168.6 1010.4,156.6 1010.7,166.6 1011,162.8 1011.3,164.3 1011.6,163.1 1011.8,166 1012.1,170.1 1012.4,169 1012.7,167.9 1013,156.9 1013.2,164.9 1013.5,156.9 1013.8,172.2 1014.1,161.8 1014.4,157.3 1014.6,158.3 1014.9,164.5 1015.2,163.2 1015.5,163.2 1015.8,163.8 1016,165 1016.3,164.1 1016.6,164.4 1016.9,169 1017.2,164.5 1017.4,166.5 1017.7,173.7 1018,166.3 1018.3,161.5 1018.6,167.7 1018.8,161.7 1019.1,165.4 1019.4,162.4 1019.7,160.7 1020,173.6 1020.2,175.8 1020.5,164.4 1020.8,165.5 1021.1,165.8 1021.4,164.8 1021.6,160.2 1021.9,170 1022.2,162.6 1022.5,166.7 1022.8,177.2 1023,170.9 1023.3,164.3 1023.6,154.4 1023.9,178 1024.2,169.4 1024.4,160.2 1024.7,163.6 1025,169.1 1025.3,166.1 1025.6,170.8 1025.8,171.3 1026.1,160.3 1026.4,168.7 1026.7,173.3 1027,175.8 1027.2,172.9 1027.5,169.7 1027.8,178.8 1028.1,173.4 1028.4,165.6 1028.6,175.3 1028.9,165.3 1029.2,169.7 1029.5,171.8 1029.8,164.5 1030,180.2 1030.3,166.1 1030.6,164.6 1030.9,175.5 1031.2,170.6 1031.4,172.5 1031.7,176.2 1032,163.9 1032.3,173.6 1032.6,161.8 1032.8,163.4 1033.1,178.7 1033.4,169.2 1033.7,166.7 1034,170.8 1034.2,178.4 1034.5,166.2 1034.8,171.2 1035.1,175.9 1035.4,177.5 1035.6,176.7 1035.9,170.3 1036.2,163.2 1036.5,169.7 1036.8,176.4 1037,177.4 1037.3,168.2 1037.6,166.8 1037.9,180.5 1038.2,180.2 1038.4,173.9 1038.7,167.4 1039,182.9 1039.3,180.1 1039.6,177.7 1039.8,175.8 1040.1,173.2 1040.4,170.9 1040.7,179.9 1041,181.4 1041.2,166.9 1041.5,173.9 1041.8,182.9 1042.1,176.5 1042.4,180.8 1042.6,167.2 1042.9,169.4 1043.2,178.1 1043.5,178.9 1043.8,170.8 1044,179 1044.3,180.3 1044.6,180 1044.9,177.2 1045.2,186 1045.4,173.9 1045.7,178.4 1046,171.6 1046.3,182 1046.6,175.4 1046.8,177.1 1047.1,181.1 1047.4,174.8 1047.7,175.7 1048,181 1048.2,176.6 1048.5,176.3 1048.8,178.2 1049.1,179.4 1049.4,171.3 1049.6,178.1 1049.9,177.2 1050.2,185.7 1050.5,174.6 1050.8,177.2 1051,182.3 1051.3,172.5 1051.6,174 1051.9,178.8 1052.2,185.8 1052.4,172.8 1052.7,174.4 1053,172.8 1053.3,184 1053.6,178.8 1053.8,172.7 1054.1,177.2 1054.4,177.2 1054.7,187.9 1055,176.9 1055.2,185 1055.5,177.5 1055.8,173.3 1056.1,183.9 1056.4,174.7 1056.6,184 1056.9,189.9 1057.2,175.5 1057.5,172 1057.8,176.1 1058,187.9 1058.3,182.7 1058.6,179 1058.9,184.3 1059.2,172.8 1059.4,184.9 1059.7,182.7 1060,186.7 1060.3,181.4 1060.6,180.4 1060.8,192.5 1061.1,183.2 1061.4,177 1061.7,183.1 1062,175.7 1062.2,190.4 1062.5,185.8 1062.8,182.7 1063.1,175.5 1063.4,179.6 1063.6,186.5 1063.9,183.8 1064.2,182.3 1064.5,183.9 1064.8,186.4 1065,184.4 1065.3,184.8 1065.6,181.1 1065.9,186.9 1066.2,185.4 1066.4,188.3 1066.7,195 1067,190.3 1067.3,183.3 1067.6,185.7 1067.8,188.9 1068.1,184.9 1068.4,190.6 1068.7,184.3 1069,184 1069.2,186.8 1069.5,190.5 1069.8,182.7 1070.1,182.9 1070.4,189.8 1070.6,191.4 1070.9,180.6 1071.2,184 1071.5,186.2 1071.8,184.3 1072,179 1072.3,187.3 1072.6,178.3 1072.9,178.7 1073.2,180.3 1073.4,193.8 1073.7,189.1 1074,177.2 1074.3,187.2 1074.6,183.3 1074.8,196.2 1075.1,190.4 1075.4,180.1 1075.7,182.5 1076,190.5 1076.2,192.7 1076.5,182 1076.8,186.7 1077.1,187.7 1077.4,185.6 1077.6,187.6 1077.9,194.2 1078.2,188.3 1078.5,181.9 1078.8,194.8 1079,190.1 1079.3,186.5 1079.6,179.5 1079.9,190.1 1080.2,185.5 1080.4,189.7 1080.7,192.2 1081,180.5 1081.3,186.8 1081.6,184.7 1081.8,195.3 1082.1,194.2 1082.4,187.1 1082.7,184.5 1083,187.2 1083.2,196.1 1083.5,186.8 1083.8,188.8 1084.1,190.9 1084.4,190.9 1084.6,193.1 1084.9,193.8 1085.2,187.2 1085.5,198.6 1085.8,184.8 1086,193.1 1086.3,197.5 1086.6,195.6 1086.9,189.9 1087.2,197.5 1087.4,191.2 1087.7,197.9 1088,181.7 1088.3,193.7 1088.6,182.1 1088.8,187.4 1089.1,195.3 1089.4,189.1 1089.7,189.3 1090,196.6 1090.2,198.1 1090.5,193.7 1090.8,191.1 1091.1,190.4 1091.4,197.6 1091.6,194.2 1091.9,200.6 1092.2,198.3 1092.5,200.8 1092.8,198.5 1093,200.5 1093.3,187.7 1093.6,207.7 1093.9,192.2 1094.2,192.9 1094.4,197.4 1094.7,198.6 1095,195.2 1095.3,191.2 1095.6,198.7 1095.8,198.3 1096.1,190.3 1096.4,202.4 1096.7,194.7 1097,197.1 1097.2,191.3 1097.5,197.2 1097.8,201.7 1098.1,205.5 1098.4,196.9 1098.6,190.5 1098.9,195.2 1099.2,198.1 1099.5,206.9 1099.8,196.2 1100,199.9 1100.3,199.8 1100.6,191.5 1100.9,206.3 1101.2,202.4 1101.4,201.8 1101.7,195.6 1102,196.5 1102.3,187.4 1102.6,202.6 1102.8,195 1103.1,203.2 1103.4,201.1 1103.7,202.5 1104,206.3 1104.2,202.3 1104.5,196.7 1104.8,193.9 1105.1,202 1105.4,192.3 1105.6,198.9 1105.9,191.8 1106.2,193.3 1106.5,195.1 1106.8,204 1107,195.4 1107.3,191.6 1107.6,206.6 1107.9,196.9 1108.2,200.4 1108.4,210.5 1108.7,205.7 1109,196.8 1109.3,204.2 1109.6,194.6 1109.8,204.3 1110.1,203.3 1110.4,195.7 1110.7,216.2 1111,197.3 1111.2,195.8 1111.5,203.6 1111.8,199.3 1112.1,199.5 1112.4,199.6 1112.6,200 1112.9,206 1113.2,193.4 1113.5,195.4 1113.8,196.6 1114,201.7 1114.3,207.4 1114.6,210 1114.9,196.2 1115.2,205.8 1115.4,192.2 1115.7,199.2 1116,194.3 1116.3,205.5 1116.6,206.2 1116.8,198.7 1117.1,213.3 1117.4,195.7 1117.7,203.9 1118,212.3 1118.2,202 1118.5,199.4 1118.8,192.8 1119.1,201.7 1119.4,208.2 1119.6,212.2 1119.9,202.6 1120.2,203.8 1120.5,210.1 1120.8,205 1121,202.8 1121.3,199.7 1121.6,206.5 1121.9,203.5 1122.2,213.4 1122.4,216.1 1122.7,210 1123,208.8 1123.3,203.6 1123.6,204.9 1123.8,205 1124.1,202.5 1124.4,204.6 1124.7,201.6 1125,215.8 1125.2,209.8 1125.5,209.2 1125.8,210.5 1126.1,204.8 1126.4,206.5 1126.6,204.8 1126.9,202.2 1127.2,201 1127.5,221.8 1127.8,206.1 1128,211.6 1128.3,211.2 1128.6,207.9 1128.9,208.4 1129.2,201.4 1129.4,208.9 1129.7,207.9 1130,213.8 1130.3,206.2 1130.6,201.5 1130.8,207.8 1131.1,205.4 1131.4,210.1 1131.7,212 1132,204.4 1132.2,211.5 1132.5,202.6 1132.8,213.5 1133.1,207.5 1133.4,209.6 1133.6,213.2 1133.9,216.6 1134.2,213.4 1134.5,215.8 1134.8,202.3 1135,213.8 1135.3,205.3 1135.6,211.3 1135.9,202.4 1136.2,201.9 1136.4,209 1136.7,202.9 1137,212.2 1137.3,212.7 1137.6,216.2 1137.8,204.1 1138.1,213.9 1138.4,211.1 1138.7,206.4 1139,213.4 1139.2,210.1 1139.5,200.5 1139.8,210.5 1140.1,208.2 1140.4,214.3 1140.6,203.8 1140.9,210.5 1141.2,207.8 1141.5,213.9 1141.8,204.9 1142,210.7 1142.3,218.5 1142.6,204.5 1142.9,216.8 1143.2,204.1 1143.4,206.1 1143.7,209.6 1144,214.6 1144.3,208.7 1144.6,214.3 1144.8,203.9 1145.1,210.9 1145.4,208.4 1145.7,211.6 1146,209.9 1146.2,214.5 1146.5,212.6 1146.8,209.3 1147.1,221.2 1147.4,213.3 1147.6,215 1147.9,205.8 1148.2,224.2 1148.5,214.3 1148.8,216.3 1149,217.1 1149.3,210.5 1149.6,212.8 1149.9,216 1150.2,208.3 1150.4,215.9 1150.7,216.1 1151,213 1151.3,211.9 1151.6,214.8 1151.8,214.6 1152.1,216.1 1152.4,214.8 1152.7,219.4 1153,220.5 1153.2,220.3 1153.5,215.7 1153.8,215.6 1154.1,219.7 1154.4,210.8 1154.6,209.7 1154.9,217.8 1155.2,219 1155.5,218.1 1155.8,215.8 1156,217.4 1156.3,223.7 1156.6,211.7 1156.9,226.5 1157.2,217.8 1157.4,213.3 1157.7,216.4 1158,226.4 1158.3,219.8 1158.6,223.4 1158.8,211 1159.1,209.7 1159.4,222.8 1159.7,211.4 1160,219.7 1160.2,209.7 1160.5,215.1 1160.8,213.9 1161.1,217.7 1161.4,211.7 1161.6,213.1 1161.9,220.8 1162.2,212 1162.5,220.6 1162.8,218.2 1163,213.3 1163.3,223 1163.6,213.3 1163.9,218.2 1164.2,221.8 1164.4,221.9 1164.7,214.6 1165,221.9 1165.3,226.1 1165.6,217 1165.8,228 1166.1,223.5 1166.4,221.7 1166.7,222.6 1167,213.3 1167.2,216.1 1167.5,219.8 1167.8,227.5 1168.1,222.3 1168.4,223.1 1168.6,219.2 1168.9,220.9 1169.2,226.2 1169.5,224.8 1169.8,224.8 1170,227 1170.3,218.4 1170.6,224.4 1170.9,223.6 1171.2,225.7 1171.4,215.5 1171.7,227.5 1172,220.2 1172.3,227.6 1172.6,221.7 1172.8,220.7 1173.1,220.9 1173.4,221.7 1173.7,226.9 1174,228.4 1174.2,227.6 1174.5,226.1 1174.8,233.4 1175.1,216.3 1175.4,225.4 1175.6,220.3 1175.9,228.3 1176.2,229.7 1176.5,234.3 1176.8,225 1177,223.1 1177.3,226.3 1177.6,227.8 1177.9,224 1178.2,219 1178.4,228.1 1178.7,224.8 1179,229.2 1179.3,229.3 1179.6,227.7 1179.8,222.9 1180.1,230.5 1180.4,222.1 1180.7,233.9 1181,222.6 1181.2,228.2 1181.5,228.4 1181.8,230.9 1182.1,228.6 1182.4,221.2 1182.6,226.5 1182.9,230.1 1183.2,232.4 1183.5,225.7 1183.8,230.2 1184,233.9 1184.3,235.4 1184.6,223.6 1184.9,222.2 1185.2,224.1 1185.4,226.7 1185.7,229 1186,227.8 1186.3,221.3 1186.6,230.8 1186.8,230.7 1187.1,227.7 1187.4,228.4 1187.7,233.7 1188,233.2 1188.2,237.9 1188.5,223.3 1188.8,226 1189.1,228.1 1189.4,236.2 1189.6,222.6 1189.9,228.9 1190.2,239.6 1190.5,234.7 1190.8,231.5 1191,230.1 1191.3,234.8 1191.6,234.8 1191.9,234.1 1192.2,229.9 1192.4,231.4 1192.7,248.6 1193,235.5 1193.3,232.5 1193.6,230.8 1193.8,229.1 1194.1,231.8 1194.4,230.6 1194.7,233.9 1195,232.2 1195.2,240.8 1195.5,235.9 1195.8,233.5 1196.1,232.7 1196.4,236.8 1196.6,235.7 1196.9,234.6 1197.2,236.4 1197.5,234.8 1197.8,233.8 1198,227 1198.3,229.3 1198.6,238.3 1198.9,237.7 1199.2,235 1199.4,232 1199.7,223.9 1200,239.8 1200.3,231.6 1200.6,239.6 1200.8,238.3 1201.1,241 1201.4,228.8 1201.7,235.7 1202,243.3 1202.2,241.6 1202.5,231.5 1202.8,234.9 1203.1,229.2 1203.4,238.7 1203.6,239.7 1203.9,245.9 1204.2,238.8 1204.5,234.8 1204.8,241.8 1205,236.4 1205.3,235.8 1205.6,239.1 1205.9,234.9 1206.2,232.2 1206.4,238.4 1206.7,240.1 1207,237.2 1207.3,235.6 1207.6,236.4 1207.8,228.8 1208.1,234.4 1208.4,239.9 1208.7,236.3 1209,247.9 1209.2,235.7 1209.5,243.3 1209.8,243.1 1210.1,244.6 1210.4,241.8" stroke="#abcbf3" stroke-width="1.3"/><polygon points="990,164.2 993,165.2 996,166.1 999,166.9 1002,167.8 1005,168.8 1008,169.7 1011,170.6 1014,171.4 1017,172.3 1020,173.2 1023,174.2 1026,175.1 1029,175.9 1032,177 1035,178.1 1038,179.2 1041,180.4 1044,181.5 1047,182.6 1050,183.8 1053,184.9 1056,186 1059,187.1 1062,188.3 1065,189.6 1068,190.9 1071,192.2 1074,193.4 1077,194.7 1080,196 1083,197.3 1086,198.6 1089,199.8 1092,201.1 1095,202.4 1098,203.7 1101,204.9 1104,206.2 1107,207.5 1110,208.8 1113,210 1116,211.3 1119,212.6 1122,213.8 1125,215.1 1128,216.4 1131,217.7 1134,218.9 1137,220.2 1140,221.5 1143,222.4 1146,223.4 1149,224.3 1152,225.3 1155,226.2 1158,227.2 1161,228.1 1164,229 1167,230 1170,230.9 1173,231.9 1176,232.8 1179,233.8 1182,234.7 1185,235.6 1188,236.6 1191,237.5 1194,238.5 1197,239.4 1200,240.4 1203,241.3 1206,242.2 1209,243.2 1209,250.2 1206,249.2 1203,248.3 1200,247.4 1197,246.4 1194,245.5 1191,244.5 1188,243.6 1185,242.6 1182,241.7 1179,240.8 1176,239.8 1173,238.9 1170,237.9 1167,237 1164,236 1161,235.1 1158,234.2 1155,233.2 1152,232.3 1149,231.3 1146,230.4 1143,229.4 1140,228.5 1137,227.2 1134,225.9 1131,224.7 1128,223.4 1125,222.1 1122,220.8 1119,219.6 1116,218.3 1113,217 1110,215.8 1107,214.5 1104,213.2 1101,211.9 1098,210.7 1095,209.4 1092,208.1 1089,206.8 1086,205.6 1083,204.3 1080,203 1077,201.7 1074,200.4 1071,199.2 1068,197.9 1065,196.6 1062,195.3 1059,194.1 1056,193 1053,191.9 1050,190.8 1047,189.6 1044,188.5 1041,187.4 1038,186.2 1035,185.1 1032,184 1029,182.8 1026,181.4 1023,180.1 1020,178.8 1017,177.4 1014,176.1 1011,174.7 1008,173.3 1005,172 1002,170.7 999,169.3 996,167.9 993,166.6 990,165.2" fill="#2c74db" stroke="none"/><polyline points="876.3,113.6 896.4,113 908.2,130.4 916.6,121.3 923.1,127 928.4,135 932.8,150.5 936.7,129.5 940.1,140 943.2,150 946,141 948.5,146 950.8,137.2 953,146 953.3,148.9 955.3,147 957.2,152.5 959,152.9 960.7,151.7 962.3,150.5 963.8,147.9 965.2,152.8 966.6,155.8 967.9,157.6 969.1,157.7 970.3,152.6 971.5,162.3 972.6,155.6 973.6,163.6 974.6,153.1 975.6,160.3 976.6,158.9 977.5,160 978.4,159.2 979.3,163.8 980.1,156.6 980.9,157.6 981.7,158 982.5,160.9 983.2,155.1 984,164.4 984.7,157.8 985.4,161 986.1,159.1 986.7,155.9 987.4,161 988,162.9 988.6,167.1 989.2,160.1 989.8,166.9 990.4,167.9 991,162.1 991.5,166.6 992.1,161.6 992.6,167.7 993.2,165.2 993.7,175.9 994.2,164.8 994.7,167 995.2,165.6 995.7,171 996.2,167.2 996.6,169.6 997.1,168.3 997.5,169.6 998,162 998.4,159.4 998.9,164.8 999.3,170.3 999.7,167.6 1000.1,174.9 1000.5,167.8 1000.9,168.7 1001.3,182.4 1001.7,161.9 1002.1,167.9 1002.5,170.1 1002.9,172.3 1003.3,169 1003.6,171.7 1004,169.6 1004.3,165.4 1004.7,170 1005,171.1 1005.4,173.4 1005.7,171.6 1006.1,171.6 1006.4,172 1006.7,169.2 1007.1,167 1007.4,170.3 1007.7,165.4 1008,177.3 1008.3,174.7 1008.6,167.3 1008.9,177.4 1009.2,171.2 1009.5,175.6 1009.8,172.4 1010.1,170.7 1010.4,171.9 1010.7,167.3 1011,169.4 1011.3,173.6 1011.6,165.9 1011.8,171.8 1012.1,169.8 1012.4,174.5 1012.7,172.3 1013,176 1013.2,175.9 1013.5,169.6 1013.8,168.9 1014.1,175.2 1014.4,175.6 1014.6,169 1014.9,171.7 1015.2,172.5 1015.5,180.9 1015.8,174.5 1016,177.8 1016.3,180.1 1016.6,171 1016.9,176.1 1017.2,171.6 1017.4,173.9 1017.7,180.4 1018,174.1 1018.3,179.7 1018.6,178.8 1018.8,171.5 1019.1,179.8 1019.4,170.3 1019.7,174.1 1020,171.5 1020.2,170.7 1020.5,173.4 1020.8,172 1021.1,172.5 1021.4,178.1 1021.6,177.5 1021.9,174.4 1022.2,183 1022.5,176 1022.8,182.1 1023,174.2 1023.3,177.6 1023.6,177.4 1023.9,174.8 1024.2,177.6 1024.4,175.9 1024.7,179.5 1025,178.3 1025.3,177.5 1025.6,181.1 1025.8,180.6 1026.1,179 1026.4,180.1 1026.7,180.4 1027,178.5 1027.2,177.8 1027.5,182.9 1027.8,176.1 1028.1,187.8 1028.4,181.8 1028.6,177.9 1028.9,172.7 1029.2,177.6 1029.5,181.5 1029.8,181.9 1030,192.6 1030.3,184.9 1030.6,180.6 1030.9,178.3 1031.2,175.8 1031.4,179 1031.7,180.5 1032,179.5 1032.3,175.9 1032.6,175.8 1032.8,182.2 1033.1,180.3 1033.4,176.2 1033.7,179.5 1034,183.3 1034.2,180.4 1034.5,177.3 1034.8,176.6 1035.1,185.2 1035.4,183.1 1035.6,179.1 1035.9,176.8 1036.2,182 1036.5,177.9 1036.8,179.7 1037,183.7 1037.3,182.4 1037.6,176.8 1037.9,182.7 1038.2,179.7 1038.4,186.7 1038.7,179.6 1039,183.3 1039.3,179.3 1039.6,182.6 1039.8,185.2 1040.1,176.3 1040.4,187.4 1040.7,185.2 1041,184.7 1041.2,181.1 1041.5,177.7 1041.8,183.7 1042.1,186.6 1042.4,186.2 1042.6,185.2 1042.9,187 1043.2,184.2 1043.5,187.3 1043.8,186.7 1044,185.4 1044.3,184.7 1044.6,182.6 1044.9,179.4 1045.2,178.7 1045.4,188.6 1045.7,186.4 1046,189.1 1046.3,187.1 1046.6,182.5 1046.8,188.1 1047.1,182.3 1047.4,185 1047.7,184 1048,186.8 1048.2,182.7 1048.5,186.6 1048.8,185.2 1049.1,181.9 1049.4,187.4 1049.6,180.6 1049.9,189.2 1050.2,181.9 1050.5,188.1 1050.8,191.8 1051,184.3 1051.3,194 1051.6,192.9 1051.9,184.5 1052.2,186.3 1052.4,189.4 1052.7,193 1053,188.5 1053.3,194.2 1053.6,184.9 1053.8,186.6 1054.1,187.9 1054.4,196.7 1054.7,186.5 1055,191.4 1055.2,181.9 1055.5,184.8 1055.8,193 1056.1,188.3 1056.4,184.6 1056.6,190.4 1056.9,184.2 1057.2,191.3 1057.5,188.9 1057.8,193 1058,192.2 1058.3,190.9 1058.6,190.7 1058.9,192 1059.2,185.3 1059.4,197.5 1059.7,191.4 1060,189.2 1060.3,198.2 1060.6,194.5 1060.8,194.1 1061.1,188 1061.4,191.1 1061.7,192.2 1062,194.9 1062.2,193.3 1062.5,193.5 1062.8,195.1 1063.1,198.4 1063.4,195.2 1063.6,191.5 1063.9,191.5 1064.2,194.8 1064.5,192 1064.8,197.2 1065,197.2 1065.3,188.1 1065.6,194.1 1065.9,191.3 1066.2,191.3 1066.4,185.8 1066.7,194.9 1067,198.1 1067.3,198.8 1067.6,189.6 1067.8,191.1 1068.1,189.8 1068.4,195.9 1068.7,195.2 1069,193.5 1069.2,199.2 1069.5,193 1069.8,194.2 1070.1,196.3 1070.4,197.2 1070.6,195.7 1070.9,195.6 1071.2,202 1071.5,198.1 1071.8,196.4 1072,201.5 1072.3,193.1 1072.6,197.3 1072.9,204.1 1073.2,196.2 1073.4,196.8 1073.7,195.2 1074,201.3 1074.3,189 1074.6,196.6 1074.8,196.7 1075.1,203 1075.4,195.4 1075.7,201.7 1076,199.7 1076.2,200 1076.5,198.1 1076.8,208.6 1077.1,194.5 1077.4,200.3 1077.6,194.4 1077.9,194.8 1078.2,197.8 1078.5,198.7 1078.8,203.4 1079,199.3 1079.3,201 1079.6,198.7 1079.9,203.4 1080.2,194.8 1080.4,197.5 1080.7,194.9 1081,201.5 1081.3,202.9 1081.6,196.9 1081.8,196 1082.1,200 1082.4,198.4 1082.7,201.5 1083,202.6 1083.2,205.1 1083.5,207 1083.8,201.5 1084.1,194.8 1084.4,203.9 1084.6,197.2 1084.9,198.7 1085.2,198.4 1085.5,204.7 1085.8,204.2 1086,206.2 1086.3,196.8 1086.6,194.3 1086.9,203.1 1087.2,202 1087.4,197.1 1087.7,207.3 1088,200.2 1088.3,207.5 1088.6,204.5 1088.8,203.5 1089.1,206.7 1089.4,208 1089.7,202.4 1090,201.6 1090.2,199.5 1090.5,207.1 1090.8,204.4 1091.1,207.9 1091.4,203.2 1091.6,198.7 1091.9,200.8 1092.2,203.6 1092.5,202.1 1092.8,208.6 1093,207.3 1093.3,203.7 1093.6,203.4 1093.9,201.7 1094.2,211.1 1094.4,206.4 1094.7,201.6 1095,209.5 1095.3,203.4 1095.6,202.1 1095.8,206.7 1096.1,212.1 1096.4,206.8 1096.7,201.2 1097,201.6 1097.2,203.8 1097.5,209.9 1097.8,207.9 1098.1,215.1 1098.4,208.2 1098.6,206.2 1098.9,208.7 1099.2,215.3 1099.5,207 1099.8,205.5 1100,207.9 1100.3,213.1 1100.6,207 1100.9,209 1101.2,208.4 1101.4,208.9 1101.7,211.6 1102,208.1 1102.3,204.8 1102.6,212.3 1102.8,211.9 1103.1,210.6 1103.4,212.9 1103.7,212.6 1104,212.2 1104.2,211.6 1104.5,207.7 1104.8,205.3 1105.1,206.3 1105.4,210.7 1105.6,211.5 1105.9,212.4 1106.2,208.5 1106.5,215.8 1106.8,215.9 1107,210.8 1107.3,206.1 1107.6,209.2 1107.9,209.8 1108.2,215.3 1108.4,211.2 1108.7,211.8 1109,212.7 1109.3,208.3 1109.6,212.2 1109.8,214 1110.1,209.3 1110.4,218.6 1110.7,212.6 1111,211.9 1111.2,215.3 1111.5,212.8 1111.8,208.5 1112.1,212.3 1112.4,211 1112.6,217.5 1112.9,214.2 1113.2,213.6 1113.5,211.4 1113.8,216.7 1114,212 1114.3,215.6 1114.6,210.5 1114.9,222 1115.2,210 1115.4,210.6 1115.7,213.3 1116,215 1116.3,213.3 1116.6,220.9 1116.8,216.5 1117.1,214.1 1117.4,215.2 1117.7,209.2 1118,221.7 1118.2,218.3 1118.5,218.7 1118.8,217.1 1119.1,214.9 1119.4,222.2 1119.6,210.8 1119.9,212.8 1120.2,215.7 1120.5,215.5 1120.8,213.2 1121,218.4 1121.3,227.2 1121.6,212.9 1121.9,212.3 1122.2,211 1122.4,216.3 1122.7,205.7 1123,214.7 1123.3,219.9 1123.6,210.7 1123.8,216.2 1124.1,221.7 1124.4,223.5 1124.7,213.7 1125,215.6 1125.2,218.9 1125.5,221.3 1125.8,219.9 1126.1,223 1126.4,219.3 1126.6,221 1126.9,218.7 1127.2,221 1127.5,222.8 1127.8,210 1128,217.4 1128.3,220.8 1128.6,225.6 1128.9,224.2 1129.2,217.4 1129.4,215.5 1129.7,221.4 1130,217.5 1130.3,219.6 1130.6,228.2 1130.8,216.5 1131.1,221.2 1131.4,218.4 1131.7,224.3 1132,221.4 1132.2,217.2 1132.5,218.6 1132.8,223.4 1133.1,222.9 1133.4,214.9 1133.6,225.3 1133.9,220.3 1134.2,219.5 1134.5,220.8 1134.8,221.2 1135,217.1 1135.3,230.9 1135.6,222.4 1135.9,227.2 1136.2,217.8 1136.4,225.5 1136.7,215.4 1137,219.7 1137.3,223 1137.6,218.9 1137.8,226.5 1138.1,223.2 1138.4,218.9 1138.7,223.6 1139,223 1139.2,226.6 1139.5,229.5 1139.8,222.9 1140.1,231.8 1140.4,228.6 1140.6,224.5 1140.9,225.6 1141.2,227.6 1141.5,226.2 1141.8,227.1 1142,222.8 1142.3,225.9 1142.6,224.5 1142.9,229.8 1143.2,220.3 1143.4,223.3 1143.7,230.2 1144,226.1 1144.3,229.7 1144.6,221 1144.8,227.6 1145.1,232.4 1145.4,224.5 1145.7,234.1 1146,219.9 1146.2,225 1146.5,227.3 1146.8,234.5 1147.1,229.1 1147.4,226.1 1147.6,223 1147.9,232.7 1148.2,232.2 1148.5,233.2 1148.8,232.8 1149,222.5 1149.3,231 1149.6,230.9 1149.9,233.9 1150.2,227.1 1150.4,224.6 1150.7,232.4 1151,225.9 1151.3,226.4 1151.6,224.8 1151.8,226.6 1152.1,230 1152.4,236.8 1152.7,229.1 1153,225.3 1153.2,224.2 1153.5,231.7 1153.8,234.4 1154.1,226.4 1154.4,224.9 1154.6,226.9 1154.9,230.9 1155.2,230.7 1155.5,235.9 1155.8,229.6 1156,230.3 1156.3,225.4 1156.6,230.5 1156.9,229.4 1157.2,237.4 1157.4,228.7 1157.7,225.9 1158,236.6 1158.3,232.5 1158.6,236.7 1158.8,235.9 1159.1,231.3 1159.4,237.4 1159.7,229.4 1160,229 1160.2,233.5 1160.5,232.8 1160.8,228.4 1161.1,230.9 1161.4,236.8 1161.6,234 1161.9,235.5 1162.2,228 1162.5,237.4 1162.8,232.6 1163,227.3 1163.3,230.2 1163.6,233.8 1163.9,236 1164.2,232.6 1164.4,229.8 1164.7,228.5 1165,225.6 1165.3,229.7 1165.6,233.4 1165.8,232.4 1166.1,237.2 1166.4,229.5 1166.7,233.5 1167,234.6 1167.2,233.7 1167.5,233.4 1167.8,233.2 1168.1,237.1 1168.4,232.5 1168.6,239.3 1168.9,239.4 1169.2,235.5 1169.5,232.9 1169.8,237.3 1170,236.8 1170.3,237.9 1170.6,230.3 1170.9,236.5 1171.2,234.9 1171.4,234.5 1171.7,237.8 1172,231.7 1172.3,231.6 1172.6,231.8 1172.8,237.4 1173.1,231.1 1173.4,238.4 1173.7,233.1 1174,235.6 1174.2,229.3 1174.5,239.2 1174.8,227 1175.1,228.7 1175.4,232.9 1175.6,238.9 1175.9,239.9 1176.2,242.3 1176.5,242.2 1176.8,238.3 1177,243.6 1177.3,238.6 1177.6,237.5 1177.9,233.7 1178.2,242.4 1178.4,238.4 1178.7,236.5 1179,233.2 1179.3,236.3 1179.6,237.4 1179.8,232.7 1180.1,238.8 1180.4,234 1180.7,242.5 1181,240 1181.2,241.7 1181.5,243.7 1181.8,231 1182.1,239.3 1182.4,236.8 1182.6,237.1 1182.9,233.3 1183.2,240.4 1183.5,235.2 1183.8,239.9 1184,241.3 1184.3,236.2 1184.6,236.4 1184.9,240.9 1185.2,246.8 1185.4,240.8 1185.7,245.8 1186,243.6 1186.3,233.5 1186.6,250.3 1186.8,239.6 1187.1,244.4 1187.4,230.8 1187.7,239.9 1188,239.7 1188.2,236 1188.5,244.7 1188.8,248 1189.1,241 1189.4,239.4 1189.6,239.1 1189.9,243.6 1190.2,243.8 1190.5,239 1190.8,236.5 1191,237.2 1191.3,237.6 1191.6,243.6 1191.9,237.7 1192.2,239.9 1192.4,240.2 1192.7,234.1 1193,244.1 1193.3,238.8 1193.6,248.9 1193.8,243.7 1194.1,247.3 1194.4,242.8 1194.7,238.3 1195,248.6 1195.2,247.4 1195.5,239.4 1195.8,240.5 1196.1,242.8 1196.4,247.4 1196.6,246.3 1196.9,243.4 1197.2,240.3 1197.5,238 1197.8,241.7 1198,239.7 1198.3,246.1 1198.6,245.8 1198.9,247.5 1199.2,244.1 1199.4,240.9 1199.7,238.5 1200,241.4 1200.3,241.8 1200.6,238.7 1200.8,239.6 1201.1,240.4 1201.4,244 1201.7,243 1202,239.3 1202.2,246.3 1202.5,243.9 1202.8,241.5 1203.1,247.8 1203.4,240.6 1203.6,247.5 1203.9,238.3 1204.2,244.6 1204.5,246 1204.8,248 1205,245.8 1205.3,247.9 1205.6,252.3 1205.9,244.7 1206.2,250 1206.4,247 1206.7,246.6 1207,245.9 1207.3,248.5 1207.6,250.3 1207.8,247.8 1208.1,242.9 1208.4,244.2 1208.7,245.4 1209,249.5 1209.2,251.5 1209.5,249.5 1209.8,250.4 1210.1,251.6 1210.4,248.6" stroke="#2c74db" stroke-width="1.3"/><polygon points="990,185.6 993,186.2 996,186.8 999,187.4 1002,188 1005,188.6 1008,189.2 1011,189.8 1014,190.4 1017,191 1020,191.6 1023,192.2 1026,192.8 1029,193.4 1032,194.2 1035,195.2 1038,196.1 1041,197.1 1044,198 1047,198.9 1050,199.9 1053,200.8 1056,201.8 1059,202.7 1062,203.7 1065,204.7 1068,205.7 1071,206.7 1074,207.7 1077,208.7 1080,209.8 1083,210.8 1086,211.8 1089,212.8 1092,213.8 1095,214.8 1098,215.8 1101,216.8 1104,217.8 1107,218.9 1110,219.9 1113,220.9 1116,221.9 1119,222.9 1122,223.9 1125,224.9 1128,225.9 1131,227 1134,228 1137,229 1140,230 1143,230.8 1146,231.5 1149,232.3 1152,233.1 1155,233.9 1158,234.6 1161,235.4 1164,236.2 1167,236.9 1170,237.7 1173,238.5 1176,239.3 1179,240 1182,240.8 1185,241.6 1188,242.3 1191,243.1 1194,243.9 1197,244.7 1200,245.4 1203,246.2 1206,247 1209,247.7 1209,257.7 1206,257 1203,256.2 1200,255.4 1197,254.7 1194,253.9 1191,253.1 1188,252.3 1185,251.6 1182,250.8 1179,250 1176,249.3 1173,248.5 1170,247.7 1167,246.9 1164,246.2 1161,245.4 1158,244.6 1155,243.9 1152,243.1 1149,242.3 1146,241.5 1143,240.8 1140,240 1137,239 1134,238 1131,237 1128,235.9 1125,234.9 1122,233.9 1119,232.9 1116,231.9 1113,230.9 1110,229.9 1107,228.9 1104,227.8 1101,226.8 1098,225.8 1095,224.8 1092,223.8 1089,222.8 1086,221.8 1083,220.8 1080,219.8 1077,218.7 1074,217.7 1071,216.7 1068,215.7 1065,214.7 1062,213.7 1059,212.7 1056,211.8 1053,210.8 1050,209.9 1047,208.9 1044,208 1041,207.1 1038,206.1 1035,205.2 1032,204.2 1029,203.2 1026,201.9 1023,200.7 1020,199.4 1017,198.1 1014,196.8 1011,195.6 1008,194.3 1005,193 1002,191.7 999,190.4 996,189.2 993,187.9 990,186.6" fill="#194e9e" stroke="none"/><polyline points="876.3,132.6 896.4,131.2 908.2,139.6 916.6,147 922.5,153 928.4,152 932.8,149 935.7,146.3 940.1,171.7 943.2,160 946,157 948.5,160 952,159.6 955,170 957,176.4 957.2,169.7 959,170.5 960.7,167.8 962.3,175.9 963.8,179.1 965.2,173.8 966.6,179.1 967.9,176.2 969.1,182.6 970.3,180.9 971.5,173.3 972.6,177.5 973.6,179.2 974.6,184.1 975.6,189.1 976.6,176.4 977.5,177.4 978.4,180 979.3,183.6 980.1,183.9 980.9,186.7 981.7,184.8 982.5,186 983.2,186 984,191.3 984.7,178 985.4,179.7 986,182.6 986.7,184.4 987.4,183.9 988,187.3 988.6,184 989.2,196.4 989.8,190 990.4,190.7 991,194.7 991.5,179.3 992.1,186.1 992.6,187.3 993.2,178.6 993.7,184.1 994.2,185.8 994.7,187.8 995.2,187.3 995.7,188.6 996.2,194.5 996.6,184.8 997.1,180.3 997.5,186.4 998,192.7 998.4,183.7 998.9,191.1 999.3,190.7 999.7,197.4 1000.1,188.1 1000.5,184.9 1000.9,189.5 1001.3,196.7 1001.7,182.8 1002.1,196.1 1002.5,193.7 1002.9,196.6 1003.2,182.2 1003.6,194.8 1004,193.4 1004.3,190.6 1004.7,186.6 1005,185.1 1005.4,190.3 1005.7,190.1 1006.1,194.3 1006.4,184.1 1006.7,198.6 1007.1,195.7 1007.4,176.3 1007.7,193.7 1008,186.8 1008.3,192.6 1008.6,198.6 1008.9,188.3 1009.2,185.6 1009.5,197.3 1009.8,186.6 1010.1,195.7 1010.4,197.1 1010.7,195.5 1011,194 1011.3,181.9 1011.6,195.5 1011.8,202.5 1012.1,196.4 1012.4,189.4 1012.6,184.4 1012.9,182.5 1013.2,196.7 1013.4,199.5 1013.7,202.3 1014,192 1014.2,184.7 1014.5,194.6 1014.7,198.8 1015,200.8 1015.2,191.8 1015.4,192.6 1015.7,191.4 1015.9,205.2 1016.2,204.6 1016.4,191.7 1016.6,197.2 1016.9,198.1 1017.1,190 1017.3,196.5 1017.6,189.9 1017.8,193 1018,194.5 1018.2,188.6 1018.4,193.4 1018.7,197.2 1018.9,198.4 1019.1,194.8 1019.3,189.7 1019.5,205.3 1019.8,190.9 1020,192 1020.2,187 1020.4,197.2 1020.6,197.1 1020.9,187.4 1021.1,195.3 1021.3,205.6 1021.5,190.7 1021.7,188.9 1022,192.8 1022.2,196.1 1022.4,201.1 1022.6,190.3 1022.8,198.9 1023.1,199.9 1023.3,208.5 1023.5,186.8 1023.7,202.7 1023.9,205.5 1024.2,197.1 1024.4,206.5 1024.6,203.2 1024.8,195 1025,199.3 1025.3,195.2 1025.5,202.8 1025.7,200.1 1025.9,195 1026.1,199.5 1026.4,188.7 1026.6,198.8 1026.8,198.1 1027,197.5 1027.2,194.5 1027.5,198.5 1027.7,194.4 1027.9,199 1028.1,195.3 1028.3,188.6 1028.6,202.6 1028.8,197 1029,204.9 1029.2,200.9 1029.4,191.5 1029.7,206.2 1029.9,190.5 1030.1,206.3 1030.3,199 1030.5,195.5 1030.8,199.1 1031,200.6 1031.2,196.9 1031.4,190.6 1031.6,198.1 1031.9,193.5 1032.1,192.4 1032.3,200.4 1032.5,200 1032.7,193.4 1033,200.5 1033.2,197.9 1033.4,195.9 1033.6,201 1033.8,203.3 1034.1,195.1 1034.3,195.7 1034.5,201.1 1034.7,196 1034.9,197.5 1035.2,204.1 1035.4,206.2 1035.6,194.2 1035.8,193.4 1036,204.9 1036.3,207.7 1036.5,191.3 1036.7,201.5 1036.9,199.7 1037.1,194.1 1037.4,204.2 1037.6,198.7 1037.8,198.9 1038,203.2 1038.2,204.7 1038.5,200.8 1038.7,193.6 1038.9,207.7 1039.1,203.8 1039.3,209.3 1039.6,196.2 1039.8,209.6 1040,194.7 1040.2,205.7 1040.4,201 1040.7,202.4 1040.9,201.7 1041.1,207.4 1041.3,203.9 1041.5,205.3 1041.8,204.1 1042,211.5 1042.2,201.9 1042.4,210.6 1042.6,204.5 1042.9,210.9 1043.1,199.5 1043.3,201.1 1043.5,209.7 1043.7,203.9 1044,202.7 1044.2,203.5 1044.4,204.8 1044.6,210.4 1044.8,202.1 1045.1,208.7 1045.3,207.6 1045.5,209.7 1045.7,201.1 1045.9,206.5 1046.2,212.4 1046.4,203.1 1046.6,206.7 1046.8,197.9 1047,205 1047.3,194.9 1047.5,201.4 1047.7,199.5 1047.9,205.4 1048.1,197.7 1048.4,205.8 1048.6,216.8 1048.8,208 1049,200.2 1049.2,204.5 1049.5,204.4 1049.7,196.8 1049.9,202.6 1050.1,198.9 1050.3,204.9 1050.6,196 1050.8,208.3 1051,212.1 1051.2,199.3 1051.4,207.9 1051.7,209.8 1051.9,207.3 1052.1,208.1 1052.3,206.5 1052.5,203.2 1052.8,200.9 1053,202.1 1053.2,209.8 1053.4,202.3 1053.6,204.9 1053.9,202 1054.1,213.6 1054.3,202.4 1054.5,206.8 1054.7,206.8 1055,201.3 1055.2,210 1055.4,206.6 1055.6,202.7 1055.8,209.1 1056.1,202.7 1056.3,198.1 1056.5,209.8 1056.7,216.5 1056.9,208.4 1057.2,212.9 1057.4,204.5 1057.6,202.8 1057.8,202.9 1058,210.7 1058.3,222.1 1058.5,208.3 1058.7,207.1 1058.9,203.8 1059.1,214.6 1059.4,205.9 1059.6,218.4 1059.8,203.8 1060,214.1 1060.2,207.8 1060.5,218.6 1060.7,204.6 1060.9,207.1 1061.1,199.3 1061.3,205.9 1061.6,201.6 1061.8,201 1062,209 1062.2,209.5 1062.4,211.3 1062.7,215.2 1062.9,213.5 1063.1,218.7 1063.3,213.8 1063.5,206 1063.8,201.4 1064,205.5 1064.2,214 1064.4,205.2 1064.6,214.8 1064.9,202.4 1065.1,213.4 1065.3,214.6 1065.5,210.7 1065.7,201.8 1066,212.7 1066.2,210 1066.4,212.3 1066.6,215.9 1066.8,208.9 1067.1,205.7 1067.3,201.3 1067.5,209.5 1067.7,208.4 1067.9,215.7 1068.2,215.7 1068.4,213.2 1068.6,212 1068.8,217.2 1069,213.5 1069.3,212.9 1069.5,202.4 1069.7,216.8 1069.9,204.4 1070.1,210.1 1070.4,211 1070.6,213.2 1070.8,214.6 1071,213.9 1071.2,213.1 1071.5,222 1071.7,217.4 1071.9,211.1 1072.1,209 1072.3,205.6 1072.6,218 1072.8,212.8 1073,215.6 1073.2,214.1 1073.4,212.9 1073.7,204.4 1073.9,218.4 1074.1,208.8 1074.3,207.6 1074.5,213.1 1074.8,212.9 1075,209.7 1075.2,218.3 1075.4,212.3 1075.6,216.7 1075.9,212.6 1076.1,215.3 1076.3,219.4 1076.5,220.9 1076.7,214.1 1077,217.2 1077.2,210.1 1077.4,206.6 1077.6,214.1 1077.8,216.5 1078.1,207 1078.3,214 1078.5,214.8 1078.7,223 1078.9,218.6 1079.2,210.2 1079.4,213.9 1079.6,217.5 1079.8,212.4 1080,216.5 1080.3,205 1080.5,215 1080.7,206.6 1080.9,216.7 1081.1,222.5 1081.4,212.6 1081.6,216.2 1081.8,215.6 1082,208.4 1082.2,214.4 1082.5,206.3 1082.7,209.3 1082.9,224.1 1083.1,216 1083.3,217.2 1083.6,223.1 1083.8,216.3 1084,211.1 1084.2,220.5 1084.4,215.8 1084.7,218.6 1084.9,215.4 1085.1,215.2 1085.3,216.8 1085.5,217.8 1085.8,232 1086,224.3 1086.2,216.7 1086.4,212.4 1086.6,214 1086.9,215.4 1087.1,215.4 1087.3,217.8 1087.5,211.9 1087.7,221.7 1088,219.6 1088.2,215.3 1088.4,220.4 1088.6,219.6 1088.8,210.5 1089.1,212.7 1089.3,215.6 1089.5,217.3 1089.7,224.7 1089.9,215.9 1090.2,220.7 1090.4,215.2 1090.6,221.4 1090.8,217.4 1091,225.3 1091.3,220.6 1091.5,223.8 1091.7,219.4 1091.9,222.2 1092.1,224.5 1092.4,222.6 1092.6,220.1 1092.8,218.4 1093,219.8 1093.2,212.9 1093.5,218.9 1093.7,222.7 1093.9,217.8 1094.1,213.8 1094.3,226.1 1094.6,215.1 1094.8,214.7 1095,227.8 1095.2,220.6 1095.4,223 1095.7,219.2 1095.9,214.9 1096.1,216.1 1096.3,213.8 1096.5,225.8 1096.8,215 1097,219.1 1097.2,223.6 1097.4,220.6 1097.6,219.9 1097.9,230.7 1098.1,219.8 1098.3,225.2 1098.5,225.2 1098.7,219.6 1099,223.5 1099.2,218.1 1099.4,217.4 1099.6,226 1099.8,217.4 1100.1,224.4 1100.3,226.7 1100.5,219.5 1100.7,225.7 1100.9,221.5 1101.2,216.7 1101.4,229.1 1101.6,217.6 1101.8,220.8 1102,224.6 1102.3,223.5 1102.5,222.3 1102.7,219.3 1102.9,231.8 1103.1,216.8 1103.4,228.1 1103.6,222.1 1103.8,217 1104,217.5 1104.2,228.8 1104.5,219.3 1104.7,221.6 1104.9,220.4 1105.1,221.6 1105.3,222.9 1105.6,227.6 1105.8,226.4 1106,218.3 1106.2,221.3 1106.4,225.7 1106.7,228.8 1106.9,232.7 1107.1,221.5 1107.3,225.9 1107.5,226.9 1107.8,224.9 1108,234.1 1108.2,220.6 1108.4,226.2 1108.6,224.1 1108.9,221.6 1109.1,219.7 1109.3,223.8 1109.5,223.3 1109.7,230 1110,222 1110.2,223.7 1110.4,226.2 1110.6,231.4 1110.8,228.9 1111.1,230.1 1111.3,227.3 1111.5,229.3 1111.7,220.5 1111.9,221.6 1112.2,222.9 1112.4,226.9 1112.6,228.6 1112.8,228.3 1113,222.5 1113.3,233.5 1113.5,221.3 1113.7,229.1 1113.9,221.5 1114.1,223 1114.4,224.5 1114.6,226.2 1114.8,218 1115,220.5 1115.2,222.2 1115.5,220.1 1115.7,236.8 1115.9,221.8 1116.1,228.6 1116.3,235.1 1116.6,229.8 1116.8,219.3 1117,224.7 1117.2,225.2 1117.4,230.5 1117.7,226 1117.9,230.4 1118.1,227.3 1118.3,227 1118.5,228.2 1118.8,223.2 1119,233.9 1119.2,230.1 1119.4,230.3 1119.6,230.1 1119.9,223.6 1120.1,225.2 1120.3,228.4 1120.5,228.9 1120.7,228.8 1121,227.9 1121.2,227.2 1121.4,227.2 1121.6,231.9 1121.8,228.9 1122.1,228.6 1122.3,230.4 1122.5,234.7 1122.7,231 1122.9,233.6 1123.2,223.7 1123.4,225.7 1123.6,227.2 1123.8,225.4 1124,233.3 1124.3,228.9 1124.5,228.8 1124.7,231.2 1124.9,225.9 1125.1,222 1125.4,240.1 1125.6,231.6 1125.8,226.1 1126,228.9 1126.2,229.4 1126.5,228.9 1126.7,234.6 1126.9,230.2 1127.1,230.7 1127.3,228.7 1127.6,234.3 1127.8,235.1 1128,236.3 1128.2,226.9 1128.4,225.7 1128.7,233.3 1128.9,230.8 1129.1,224.9 1129.3,237.1 1129.5,225 1129.8,227.5 1130,233.4 1130.2,241.5 1130.4,231.6 1130.6,235.6 1130.9,232.6 1131.1,228.3 1131.3,227.6 1131.5,236.3 1131.7,231.7 1132,235.8 1132.2,227.5 1132.4,230.7 1132.6,234.2 1132.8,225.3 1133.1,231.9 1133.3,231.8 1133.5,235.6 1133.7,235 1133.9,235.4 1134.2,233.2 1134.4,235.6 1134.6,231.7 1134.8,225.9 1135,234.9 1135.3,230.5 1135.5,237.7 1135.7,235.7 1135.9,229.5 1136.1,236.4 1136.4,226.8 1136.6,229.9 1136.8,237.7 1137,234.3 1137.2,234.2 1137.5,236 1137.7,240.2 1137.9,233.4 1138.1,235.2 1138.3,233.4 1138.6,235.4 1138.8,238.6 1139,231.6 1139.2,239.1 1139.4,228.1 1139.7,236.7 1139.9,228.8 1140.1,241.3 1140.3,231.7 1140.5,234.6 1140.8,227.8 1141,242.1 1141.2,246.5 1141.4,238.8 1141.6,230.1 1141.9,234.9 1142.1,226.4 1142.3,234.4 1142.5,236.2 1142.7,239.7 1143,236.5 1143.2,238.9 1143.4,237.1 1143.6,245.7 1143.8,234.4 1144.1,234 1144.3,234.1 1144.5,236.2 1144.7,237.3 1144.9,230.8 1145.2,232.7 1145.4,233.6 1145.6,227.8 1145.8,243 1146,236.9 1146.3,231 1146.5,228.9 1146.7,234.8 1146.9,234.6 1147.1,237.7 1147.4,242.2 1147.6,245 1147.8,232.5 1148,241.5 1148.2,239.6 1148.5,233.5 1148.7,234.5 1148.9,241.8 1149.1,236.1 1149.3,230.9 1149.6,239.4 1149.8,229.5 1150,243.1 1150.2,230.9 1150.4,234.7 1150.7,242.1 1150.9,237 1151.1,242.9 1151.3,243.4 1151.5,235.9 1151.8,241.6 1152,234.8 1152.2,242.3 1152.4,234 1152.6,238.3 1152.9,236.6 1153.1,236.2 1153.3,240.3 1153.5,232 1153.7,235.9 1154,236.2 1154.2,243.3 1154.4,233.1 1154.6,243.2 1154.8,248.1 1155.1,241.1 1155.3,239.8 1155.5,239 1155.7,236.6 1155.9,241.5 1156.2,240.9 1156.4,247.4 1156.6,236.3 1156.8,232.9 1157,233.6 1157.3,238.5 1157.5,242.7 1157.7,233.5 1157.9,239.1 1158.1,235.6 1158.4,239.3 1158.6,237.1 1158.8,235.8 1159,237 1159.2,235.8 1159.5,239.7 1159.7,245 1159.9,240.7 1160.1,237.4 1160.3,238.4 1160.6,231.2 1160.8,239.6 1161,232.9 1161.2,247.2 1161.4,235.1 1161.7,244.4 1161.9,242.6 1162.1,239.6 1162.3,238.2 1162.5,246.2 1162.8,245 1163,240.4 1163.2,242.1 1163.4,236.5 1163.6,236.2 1163.9,249.7 1164.1,243.8 1164.3,236.3 1164.5,234.6 1164.7,240.8 1165,245.5 1165.2,246.2 1165.4,237.1 1165.6,242.2 1165.8,246.9 1166.1,242.9 1166.3,238.1 1166.5,243.3 1166.7,237.7 1166.9,245 1167.2,245.1 1167.4,237.2 1167.6,240.4 1167.8,248.1 1168,244 1168.3,236.5 1168.5,242.2 1168.7,237.3 1168.9,244 1169.1,241.3 1169.4,242.9 1169.6,244.6 1169.8,242.2 1170,239.4 1170.2,244.5 1170.5,245.3 1170.7,238.2 1170.9,245.6 1171.1,241.9 1171.3,248.1 1171.6,242.2 1171.8,244.7 1172,236.9 1172.2,249.4 1172.4,250.3 1172.7,249.5 1172.9,241.7 1173.1,247.5 1173.3,240.2 1173.5,243.3 1173.8,244.6 1174,247.3 1174.2,240.8 1174.4,242.7 1174.6,236.3 1174.9,252.9 1175.1,244.1 1175.3,243.9 1175.5,245.9 1175.7,240.9 1176,242.2 1176.2,240.6 1176.4,236.4 1176.6,245.1 1176.8,240.2 1177.1,241.7 1177.3,250.6 1177.5,238.3 1177.7,237.6 1177.9,245.7 1178.2,250.5 1178.4,247.6 1178.6,250.9 1178.8,248.9 1179,254.3 1179.3,244.6 1179.5,248.1 1179.7,246.3 1179.9,242.9 1180.1,242 1180.4,247.9 1180.6,251.6 1180.8,248.1 1181,244.5 1181.2,256.1 1181.5,242 1181.7,246.6 1181.9,245.6 1182.1,246 1182.3,247.4 1182.6,249.4 1182.8,237.7 1183,249 1183.2,249.4 1183.4,247 1183.7,249.2 1183.9,246 1184.1,247.3 1184.3,248.6 1184.5,254.3 1184.8,251.3 1185,243.6 1185.2,246.5 1185.4,247.5 1185.6,246.3 1185.9,247.8 1186.1,247.2 1186.3,246.2 1186.5,255.6 1186.7,245 1187,242.8 1187.2,247.3 1187.4,244.2 1187.6,239.3 1187.8,249.9 1188.1,252.8 1188.3,244.8 1188.5,252.1 1188.7,240.8 1188.9,243.5 1189.2,245.9 1189.4,241 1189.6,253.6 1189.8,247.9 1190,250.6 1190.3,252.1 1190.5,247.8 1190.7,246.5 1190.9,245.2 1191.1,244.4 1191.4,246.4 1191.6,239.7 1191.8,245.4 1192,254.6 1192.2,250.2 1192.5,248.5 1192.7,251.5 1192.9,248.7 1193.1,241.6 1193.3,252.6 1193.6,241.3 1193.8,247.1 1194,247.6 1194.2,251.6 1194.4,250.2 1194.7,253.3 1194.9,253.7 1195.1,248.2 1195.3,250.1 1195.5,250.1 1195.8,253.2 1196,241.8 1196.2,242.3 1196.4,242.9 1196.6,251.5 1196.9,255.8 1197.1,243.4 1197.3,249.2 1197.5,253.6 1197.7,257 1198,247.7 1198.2,254.6 1198.4,254.1 1198.6,243.1 1198.8,250.9 1199.1,252.7 1199.3,251.4 1199.5,251.8 1199.7,255.2 1199.9,252.9 1200.2,248.3 1200.4,251.8 1200.6,244.7 1200.8,255.5 1201,247.4 1201.3,254.5 1201.5,243 1201.7,243.5 1201.9,254.9 1202.1,253 1202.4,245.5 1202.6,256.5 1202.8,250.8 1203,250.9 1203.2,248 1203.5,254.2 1203.7,247.8 1203.9,249.6 1204.1,250 1204.3,254.8 1204.6,252.7 1204.8,248.8 1205,255.6 1205.2,249 1205.4,247.2 1205.7,252.4 1205.9,252 1206.1,253.9 1206.3,257.4 1206.5,254.4 1206.8,259.3 1207,254 1207.2,255.5 1207.4,253.8 1207.6,247.1 1207.9,256.8 1208.1,248.1 1208.3,256.3 1208.5,253.4 1208.7,253.1 1209,250.1 1209.2,253.1 1209.4,244.3 1209.6,259.2 1209.8,254.6 1210.1,251.6 1210.3,253.9" stroke="#194e9e" stroke-width="1.4"/></g><rect x="849.8" y="47.3" width="373.0" height="295.2" fill="none" stroke="#111" stroke-width="2"/><path d="M849.8,342.5 h-10 M849.8,334.4 h-5 M849.8,329.7 h-5 M849.8,326.3 h-5 M849.8,323.7 h-5 M849.8,321.6 h-5 M849.8,319.8 h-5 M849.8,318.3 h-5 M849.8,316.9 h-5 M849.8,315.6 h-10 M849.8,307.6 h-5 M849.8,302.8 h-5 M849.8,299.5 h-5 M849.8,296.9 h-5 M849.8,294.8 h-5 M849.8,293 h-5 M849.8,291.4 h-5 M849.8,290 h-5 M849.8,288.8 h-10 M849.8,280.7 h-5 M849.8,276 h-5 M849.8,272.6 h-5 M849.8,270 h-5 M849.8,267.9 h-5 M849.8,266.1 h-5 M849.8,264.6 h-5 M849.8,263.2 h-5 M849.8,261.9 h-10 M849.8,253.9 h-5 M849.8,249.1 h-5 M849.8,245.8 h-5 M849.8,243.2 h-5 M849.8,241.1 h-5 M849.8,239.3 h-5 M849.8,237.7 h-5 M849.8,236.3 h-5 M849.8,235.1 h-10 M849.8,227 h-5 M849.8,222.3 h-5 M849.8,218.9 h-5 M849.8,216.3 h-5 M849.8,214.2 h-5 M849.8,212.4 h-5 M849.8,210.9 h-5 M849.8,209.5 h-5 M849.8,208.2 h-10 M849.8,200.2 h-5 M849.8,195.4 h-5 M849.8,192.1 h-5 M849.8,189.5 h-5 M849.8,187.4 h-5 M849.8,185.6 h-5 M849.8,184 h-5 M849.8,182.6 h-5 M849.8,181.4 h-10 M849.8,173.3 h-5 M849.8,168.6 h-5 M849.8,165.2 h-5 M849.8,162.6 h-5 M849.8,160.5 h-5 M849.8,158.7 h-5 M849.8,157.2 h-5 M849.8,155.8 h-5 M849.8,154.5 h-10 M849.8,146.5 h-5 M849.8,141.7 h-5 M849.8,138.4 h-5 M849.8,135.8 h-5 M849.8,133.7 h-5 M849.8,131.9 h-5 M849.8,130.3 h-5 M849.8,128.9 h-5 M849.8,127.7 h-10 M849.8,119.6 h-5 M849.8,114.9 h-5 M849.8,111.5 h-5 M849.8,108.9 h-5 M849.8,106.8 h-5 M849.8,105 h-5 M849.8,103.5 h-5 M849.8,102.1 h-5 M849.8,100.8 h-10 M849.8,92.8 h-5 M849.8,88 h-5 M849.8,84.7 h-5 M849.8,82.1 h-5 M849.8,80 h-5 M849.8,78.2 h-5 M849.8,76.6 h-5 M849.8,75.2 h-5 M849.8,74 h-10 M849.8,65.9 h-5 M849.8,61.2 h-5 M849.8,57.8 h-5 M849.8,55.2 h-5 M849.8,53.1 h-5 M849.8,51.3 h-5 M849.8,49.8 h-5 M849.8,48.4 h-5 M849.8,47.1 h-10 M849.7,342.5 v5 M856.2,342.5 v5 M861.5,342.5 v5 M865.9,342.5 v5 M869.8,342.5 v5 M873.2,342.5 v5 M876.3,342.5 v9.5 M896.4,342.5 v5 M908.2,342.5 v5 M916.6,342.5 v5 M923.1,342.5 v5 M928.4,342.5 v5 M932.8,342.5 v5 M936.7,342.5 v5 M940.1,342.5 v5 M943.2,342.5 v9.5 M963.3,342.5 v5 M975.1,342.5 v5 M983.5,342.5 v5 M990,342.5 v5 M995.3,342.5 v5 M999.7,342.5 v5 M1003.6,342.5 v5 M1007,342.5 v5 M1010.1,342.5 v9.5 M1030.2,342.5 v5 M1042,342.5 v5 M1050.4,342.5 v5 M1056.9,342.5 v5 M1062.2,342.5 v5 M1066.6,342.5 v5 M1070.5,342.5 v5 M1073.9,342.5 v5 M1077,342.5 v9.5 M1097.1,342.5 v5 M1108.9,342.5 v5 M1117.3,342.5 v5 M1123.8,342.5 v5 M1129.1,342.5 v5 M1133.5,342.5 v5 M1137.4,342.5 v5 M1140.8,342.5 v5 M1143.9,342.5 v9.5 M1164,342.5 v5 M1175.8,342.5 v5 M1184.2,342.5 v5 M1190.7,342.5 v5 M1196,342.5 v5 M1200.4,342.5 v5 M1204.3,342.5 v5 M1207.7,342.5 v5 M1210.8,342.5 v9.5" stroke="#111" stroke-width="1.6" fill="none"/><g font-family="'Liberation Sans', Arial, sans-serif" fill="#111"><text x="838.8" y="350.9" text-anchor="end" font-size="18.5">10<tspan dy="-8.5" font-size="13">-29</tspan></text><text x="838.8" y="297.2" text-anchor="end" font-size="18.5">10<tspan dy="-8.5" font-size="13">-27</tspan></text><text x="838.8" y="243.5" text-anchor="end" font-size="18.5">10<tspan dy="-8.5" font-size="13">-25</tspan></text><text x="838.8" y="189.8" text-anchor="end" font-size="18.5">10<tspan dy="-8.5" font-size="13">-23</tspan></text><text x="838.8" y="136.1" text-anchor="end" font-size="18.5">10<tspan dy="-8.5" font-size="13">-21</tspan></text><text x="838.8" y="82.4" text-anchor="end" font-size="18.5">10<tspan dy="-8.5" font-size="13">-19</tspan></text><text x="863.8" y="369.6" font-size="19" textLength="18.6" lengthAdjust="spacingAndGlyphs">10</text><text x="884.5" y="361.9" font-size="13">0</text><text x="930.7" y="369.6" font-size="19" textLength="18.6" lengthAdjust="spacingAndGlyphs">10</text><text x="951.4" y="361.9" font-size="13">1</text><text x="997.6" y="369.6" font-size="19" textLength="18.6" lengthAdjust="spacingAndGlyphs">10</text><text x="1018.3" y="361.9" font-size="13">2</text><text x="1064.5" y="369.6" font-size="19" textLength="18.6" lengthAdjust="spacingAndGlyphs">10</text><text x="1085.2" y="361.9" font-size="13">3</text><text x="1131.4" y="369.6" font-size="19" textLength="18.6" lengthAdjust="spacingAndGlyphs">10</text><text x="1152.1" y="361.9" font-size="13">4</text><text x="1198.3" y="369.6" font-size="19" textLength="18.6" lengthAdjust="spacingAndGlyphs">10</text><text x="1219" y="361.9" font-size="13">5</text></g><text x="959.5" y="391.7" font-family="'Liberation Sans', Arial, sans-serif" font-size="24" fill="#111" textLength="172" lengthAdjust="spacingAndGlyphs">Frequency (Hz)</text><text transform="translate(791.5,256.8) rotate(-90)" font-family="'Liberation Sans', Arial, sans-serif" font-size="25.4" fill="#111">S (A<tspan dy="-9.5" font-size="16">2</tspan><tspan dy="9.5">/Hz)</tspan></text><g font-family="'Liberation Sans', Arial, sans-serif" font-size="15" fill="#111"><text x="860" y="65.8" fill="#e8343c" textLength="76" lengthAdjust="spacingAndGlyphs">Photodiode</text><path d="M944.3,58.5 H978.6" stroke="#c0141c" stroke-width="2"/><path d="M944.3,77.4 H978.6" stroke="#ec2a2e" stroke-width="2"/><path d="M944.3,96.1 H978.6" stroke="#f8c0c0" stroke-width="2"/><path d="M944.3,115.4 H978.6" stroke="#111" stroke-width="1.6" stroke-dasharray="3,2.4"/><text x="983.7" y="63.9">1 V</text><text x="983.7" y="82.8">2 V</text><text x="983.7" y="101.8">3 V</text><text x="983.7" y="120.7" textLength="166" lengthAdjust="spacingAndGlyphs">Instrumental background</text><text x="1034.3" y="65.3" fill="#2f7de0" textLength="106.5" lengthAdjust="spacingAndGlyphs">Photoconductor</text><path d="M1146,60.4 H1180" stroke="#1c4d9a" stroke-width="2"/><path d="M1146,79.6 H1180" stroke="#2d72d9" stroke-width="2"/><path d="M1146,98.2 H1180" stroke="#bcd5f5" stroke-width="2"/><text x="1185.3" y="66.3">1 V</text><text x="1185.3" y="84.9">2 V</text><text x="1185.3" y="103.5">3 V</text></g><defs><linearGradient id="slabG" x1="0" y1="431" x2="0" y2="483" gradientUnits="userSpaceOnUse"><stop offset="0" stop-color="#8a2ae6"/><stop offset="0.6" stop-color="#a424ea"/><stop offset="1" stop-color="#b41ee0"/></linearGradient><linearGradient id="nwD" x1="828" y1="0" x2="1242" y2="0" gradientUnits="userSpaceOnUse"><stop offset="0" stop-color="#e81010"/><stop offset="0.05" stop-color="#f06010"/><stop offset="0.1" stop-color="#f0d020"/><stop offset="0.15" stop-color="#f0f050"/><stop offset="0.185" stop-color="#40c020"/><stop offset="0.2" stop-color="#c0a0ff"/><stop offset="0.21" stop-color="#20e0f0"/><stop offset="0.33" stop-color="#20e0d0"/><stop offset="0.45" stop-color="#20d820"/><stop offset="0.6" stop-color="#a0e020"/><stop offset="0.72" stop-color="#f0e000"/><stop offset="0.8" stop-color="#f0a000"/><stop offset="0.85" stop-color="#f02010"/><stop offset="1" stop-color="#e81020"/></linearGradient><clipPath id="clipD"><rect x="808.2" y="488.8" width="450.6" height="185.9"/></clipPath></defs><path d="M822,396 H1271 V492" fill="none" stroke="#ececec" stroke-width="1"/><polygon points="827.7,430.8 1239.6,431 1255.7,483.2 808.5,483.2" fill="url(#slabG)"/><polygon points="808.5,483.2 1255.7,483.2 1255.7,486 808.5,486" fill="#f4d8f4"/><line x1="828" y1="452.6" x2="1242" y2="452.6" stroke="url(#nwD)" stroke-width="5"/><polygon points="920.5,439.6 946,439.6 944.9,445.8 936.4,445.8 933.1,464.6 941.6,464.6 940.5,470.6 915,470.6 916.1,464.6 924.6,464.6 927.9,445.8 919.4,445.8" fill="#e8b02c"/><polygon points="961.4,439.6 986.9,439.6 986.1,445.8 977.6,445.8 975.4,464.6 983.9,464.6 983.2,470.6 957.7,470.6 958.4,464.6 966.9,464.6 969.1,445.8 960.6,445.8" fill="#e8b02c"/><polygon points="1001.5,439.6 1027,439.6 1026.6,445.8 1018.1,445.8 1017,464.6 1025.5,464.6 1025.2,470.6 999.7,470.6 1000,464.6 1008.5,464.6 1009.6,445.8 1001.1,445.8" fill="#e8b02c"/><polygon points="1041.5,439.6 1067,439.6 1067.1,445.8 1058.6,445.8 1058.6,464.6 1067.1,464.6 1067.1,470.6 1041.6,470.6 1041.6,464.6 1050.1,464.6 1050.1,445.8 1041.6,445.8" fill="#e8b02c"/><polygon points="1082.3,439.6 1107.8,439.6 1108.2,445.8 1099.7,445.8 1100.9,464.6 1109.4,464.6 1109.8,470.6 1084.3,470.6 1083.9,464.6 1092.4,464.6 1091.2,445.8 1082.7,445.8" fill="#e8b02c"/><polygon points="1123.2,439.6 1148.7,439.6 1149.4,445.8 1140.9,445.8 1143.2,464.6 1151.7,464.6 1152.4,470.6 1126.9,470.6 1126.2,464.6 1134.7,464.6 1132.4,445.8 1123.9,445.8" fill="#e8b02c"/><polygon points="1163.2,439.6 1188.8,439.6 1189.9,445.8 1181.4,445.8 1184.8,464.6 1193.3,464.6 1194.4,470.6 1168.9,470.6 1167.8,464.6 1176.3,464.6 1172.9,445.8 1164.4,445.8" fill="#e8b02c"/><polygon points="1203.7,439.6 1229.2,439.6 1230.7,445.8 1222.2,445.8 1226.7,464.6 1235.2,464.6 1236.7,470.6 1211.2,470.6 1209.7,464.6 1218.2,464.6 1213.7,445.8 1205.2,445.8" fill="#e8b02c"/><line x1="905" y1="452.6" x2="1242" y2="452.6" stroke="url(#nwD)" stroke-width="4" opacity="0.45"/><line x1="862" y1="396" x2="862" y2="450" stroke="#8c8cf0" stroke-width="3"/><g stroke="#ffe860" stroke-width="1" opacity="0.8"><path d="M852,444 L872,461 M852,461 L872,444 M862,441 V464 M850,452.6 H874"/></g><circle cx="862" cy="452.6" r="4" fill="#fff060"/><g stroke="#e0e0ff" stroke-width="0.8" opacity="0.8"><path d="M903,446 L913,459 M903,459 L913,446"/></g><rect x="808.2" y="488.8" width="450.6" height="185.9" fill="#b2624a"/><g clip-path="url(#clipD)"><path d="M1079.4,486 L1120.2,676" stroke="#fab22c" stroke-width="6"/><path d="M1108.1,486 L1148.9,676" stroke="#fab22c" stroke-width="6"/><path d="M1136.8,486 L1177.6,676" stroke="#fab22c" stroke-width="6"/><path d="M1165.5,486 L1206.3,676" stroke="#fab22c" stroke-width="6"/><path d="M1194.2,486 L1235,676" stroke="#fab22c" stroke-width="6"/><path d="M1222.9,486 L1263.7,676" stroke="#fab22c" stroke-width="6"/><path d="M1251.6,486 L1292.4,676" stroke="#fab22c" stroke-width="6"/><path d="M1280.3,486 L1321.1,676" stroke="#fab22c" stroke-width="6"/><path d="M1029.2,586.3 L1040.4,638.6" stroke="#fab22c" stroke-width="5.5"/><path d="M1057,582.4 L1068.3,634.7" stroke="#fab22c" stroke-width="5.5"/><path d="M1084.9,578.4 L1096.1,630.7" stroke="#fab22c" stroke-width="5.5"/><path d="M1112.7,574.5 L1124,626.8" stroke="#fab22c" stroke-width="5.5"/><path d="M1140.6,570.6 L1151.8,622.9" stroke="#fab22c" stroke-width="5.5"/><path d="M1168.4,566.6 L1179.7,618.9" stroke="#fab22c" stroke-width="5.5"/><path d="M1196.3,562.7 L1207.5,615" stroke="#fab22c" stroke-width="5.5"/><path d="M1224.2,558.8 L1235.4,611.1" stroke="#fab22c" stroke-width="5.5"/><path d="M1252,554.8 L1263.3,607.1" stroke="#fab22c" stroke-width="5.5"/><path d="M1279.9,550.9 L1291.1,603.2" stroke="#fab22c" stroke-width="5.5"/><path d="M1307.7,547 L1319,599.3" stroke="#fab22c" stroke-width="5.5"/><path d="M1000,600 L1258,586" stroke="#8a4a2a" stroke-width="3" opacity="0.8"/><path d="M1000,596 L1258,582" stroke="#f0a030" stroke-width="3" opacity="0.6"/><g stroke="#7e3c28" stroke-width="2.5" fill="none" opacity="0.7"><path d="M806,522.5 L1003,497"/><path d="M806,557 L1058,507.5"/><path d="M806,594 L1037,539"/><path d="M806,624 L1015,562"/></g><path d="M806,518 L1003,492.5 L1007,486" stroke="#fab22c" stroke-width="7" fill="none"/><path d="M806,551 L1055,502.8 L1092.6,677" stroke="#fab22c" stroke-width="9" fill="none" stroke-linejoin="miter"/><path d="M806,589 L1034.5,534.2 L1065.5,677" stroke="#fab22c" stroke-width="7" fill="none"/><path d="M806,619 L1012.7,557.4 L1035.3,662.6 L1000,676" stroke="#fab22c" stroke-width="6.5" fill="none"/><path d="M808,640 Q880,620 994,616" stroke="#e08a20" stroke-width="6" fill="none"/><path d="M880,623 Q940,616 994,616" stroke="#f8b830" stroke-width="4" fill="none"/><path d="M972,576.5 L1007,584.7" stroke="#6a3a1a" stroke-width="1.5"/><g stroke="#fff" stroke-width="1.8" stroke-dasharray="6,5" fill="none" opacity="0.9"><path d="M808,627 L993.5,601 L997.6,625.7 L808,650.3"/><path d="M1260,551 L1008.5,584.7 L1018,644.8 L1260,613.4"/></g></g><text transform="translate(810,673.4) rotate(-7.6)" font-family="'Liberation Sans', Arial, sans-serif" font-size="18.5" fill="#f0e8e8" stroke="#f0e8e8" stroke-width="0.3" textLength="208" lengthAdjust="spacing">Nanowire PL emitter</text><text transform="translate(1017,572) rotate(-7.4)" font-family="'Liberation Sans', Arial, sans-serif" font-size="19" fill="#f0e8e8" stroke="#f0e8e8" stroke-width="0.3" textLength="237" lengthAdjust="spacing">Nanowire spectrometer</text><defs><linearGradient id="dieG" x1="1420" y1="80" x2="1610" y2="250" gradientUnits="userSpaceOnUse"><stop offset="0" stop-color="#85858a"/><stop offset="0.5" stop-color="#6e6e72"/><stop offset="1" stop-color="#5a5a5e"/></linearGradient></defs><polygon points="1382.4,46.3 1618.3,36.8 1631.2,264.2 1408,307.9" fill="#4a3e68" /><polygon points="1406.5,46.7 1425.5,45.9 1427,62.7 1408.1,63.7" fill="#dcb934" /><polygon points="1429,286.7 1446.9,283.3 1448.3,298.8 1430.5,302.2" fill="#dcb934" /><polygon points="1387.5,70.4 1405.5,69.5 1407.3,88.7 1389.4,89.9" fill="#dcb934" /><polygon points="1603.7,58.7 1617.5,57.9 1618.4,74.8 1604.7,75.7" fill="#dcb934" /><polygon points="1446.3,45.1 1464.3,44.3 1465.7,60.7 1447.7,61.6" fill="#dcb934" /><polygon points="1466.6,279.7 1483.7,276.5 1485,291.6 1467.9,294.9" fill="#dcb934" /><polygon points="1391.5,111.7 1409.3,110.3 1411.1,129.2 1393.4,130.8" fill="#dcb934" /><polygon points="1605.9,94.8 1619.5,93.7 1620.5,110.4 1606.9,111.6" fill="#dcb934" /><polygon points="1484.1,43.5 1501.4,42.8 1502.6,58.8 1485.4,59.7" fill="#dcb934" /><polygon points="1502.5,273 1518.9,270 1520,284.8 1503.7,288" fill="#dcb934" /><polygon points="1395.5,152.3 1413.1,150.5 1414.9,169.2 1397.3,171.2" fill="#dcb934" /><polygon points="1608,130.4 1621.5,129 1622.5,145.5 1609,147" fill="#dcb934" /><polygon points="1520.3,42 1536.8,41.3 1537.9,57 1521.5,57.9" fill="#dcb934" /><polygon points="1536.9,266.6 1552.6,263.7 1553.6,278.2 1538,281.3" fill="#dcb934" /><polygon points="1399.4,192.3 1416.8,190.1 1418.6,208.6 1401.2,211" fill="#dcb934" /><polygon points="1610.1,165.6 1623.5,163.9 1624.4,180.2 1611.1,182.1" fill="#dcb934" /><polygon points="1554.9,40.6 1570.7,39.9 1571.7,55.3 1556,56.1" fill="#dcb934" /><polygon points="1569.9,260.5 1584.9,257.7 1585.8,272 1570.8,274.9" fill="#dcb934" /><polygon points="1403.2,231.8 1420.5,229.2 1422.2,247.4 1405,250.2" fill="#dcb934" /><polygon points="1612.2,200.4 1625.5,198.4 1626.4,214.5 1613.1,216.6" fill="#dcb934" /><polygon points="1588.1,39.2 1603.2,38.6 1604.1,53.6 1589,54.4" fill="#dcb934" /><polygon points="1601.4,254.7 1615.8,252 1616.7,265.9 1602.3,268.7" fill="#dcb934" /><polygon points="1407,270.8 1424.2,267.8 1425.8,285.7 1408.8,288.9" fill="#dcb934" /><polygon points="1614.2,234.8 1627.4,232.5 1628.3,248.3 1615.2,250.8" fill="#dcb934" /><polygon points="1407.3,66.4 1601.9,56.1 1613.6,250.9 1427.8,285.1" fill="#c9a82a" /><polygon points="1411.6,69.4 1599,59.2 1610.4,249.2 1431.4,281.9" fill="#d8b834" /><polygon points="1416,74.5 1421.6,78.2 1442.1,275 1434.9,278.8" fill="#6a5a20" /><polygon points="1434.9,278.8 1442.1,275 1611.2,245.7 1610.4,248.5" fill="#8a7a30" /><polygon points="1420.7,77.4 1601.9,66.1 1611.2,245.2 1442.1,275" fill="url(#dieG)" /><polygon points="1517.4,121.7 1524,121.1 1524.5,128.2 1517.9,128.9" fill="#c8e630" /><polygon points="1527.6,122.1 1534.2,121.5 1534.7,128.6 1528.2,129.2" fill="#86e040" /><polygon points="1537.3,125.1 1543.8,124.5 1544.3,131.5 1537.8,132.1" fill="#40e080" /><polygon points="1545.9,130.4 1552.3,129.7 1552.7,136.7 1546.4,137.4" fill="#30e0a8" /><polygon points="1552.7,137.6 1559.1,137 1559.5,143.9 1553.2,144.6" fill="#30e0c8" /><polygon points="1557.5,146.4 1563.8,145.7 1564.3,152.6 1558,153.3" fill="#30d8e8" /><polygon points="1560.1,156.2 1566.3,155.4 1566.8,162.3 1560.5,163" fill="#30c0f0" /><polygon points="1560.1,166.3 1566.4,165.6 1566.8,172.4 1560.6,173.2" fill="#2090f0" /><polygon points="1557.8,176.3 1564,175.5 1564.5,182.3 1558.3,183.1" fill="#d8a040" /><polygon points="1553.1,185.5 1559.4,184.7 1559.9,191.5 1553.6,192.3" fill="#d8c060" /><polygon points="1546.5,193.4 1552.8,192.5 1553.3,199.3 1547,200.2" fill="#c0d080" /><polygon points="1538.1,199.5 1544.5,198.6 1545,205.4 1538.6,206.4" fill="#80c040" /><polygon points="1528.6,203.4 1535.1,202.5 1535.6,209.4 1529.1,210.3" fill="#70b040" /><polygon points="1518.5,204.9 1525,203.9 1525.6,210.9 1519,211.8" fill="#50a050" /><polygon points="1508.3,203.7 1515,202.8 1515.5,209.8 1508.9,210.7" fill="#40a060" /><polygon points="1498.8,200 1505.6,199.1 1506.1,206.1 1499.4,207.1" fill="#40c0a0" /><polygon points="1490.6,193.9 1497.4,193 1497.9,200.1 1491.2,201.1" fill="#6020f0" /><polygon points="1484.2,185.8 1491,184.9 1491.6,192.1 1484.7,193" fill="#f020f0" /><polygon points="1480,176.2 1486.9,175.3 1487.5,182.5 1480.6,183.4" fill="#f020c0" /><polygon points="1478.5,165.7 1485.4,164.9 1486,172.1 1479.1,172.9" fill="#f0208a" /><polygon points="1479.6,155 1486.5,154.2 1487.1,161.4 1480.2,162.2" fill="#f08830" /><polygon points="1483.4,144.8 1490.3,144.1 1490.9,151.3 1484,152.1" fill="#f0a030" /><polygon points="1489.6,135.9 1496.4,135.2 1497,142.4 1490.2,143.2" fill="#f0c030" /><polygon points="1497.7,128.8 1504.5,128.2 1505,135.4 1498.2,136" fill="#e8e040" /><polygon points="1507.2,124 1513.9,123.4 1514.4,130.5 1507.7,131.2" fill="#d4e040" /><polygon points="1555.4,162.8 1555.4,167.2 1554.9,171.6 1553.9,175.9 1552.4,180.1 1550.4,184.1 1548,187.7 1545.2,191.1 1542,194 1538.5,196.4 1534.7,198.4 1530.7,199.8 1526.6,200.7 1522.5,201 1518.3,200.7 1514.2,199.8 1510.3,198.4 1506.5,196.4 1503.1,193.8 1500,190.8 1497.3,187.4 1495.1,183.5 1493.3,179.4 1492.1,175 1491.5,170.4 1491.4,165.8 1491.9,161.2 1492.9,156.7 1494.5,152.4 1496.6,148.3 1499.2,144.5 1502.2,141.1 1505.6,138.2 1509.3,135.8 1513.2,133.9 1517.3,132.6 1521.5,131.9 1525.7,131.8 1529.8,132.3 1533.9,133.3 1537.7,135 1541.3,137.1 1544.6,139.8 1547.5,142.8 1550.1,146.3 1552.1,150.1 1553.7,154.1 1554.8,158.4" fill="#e8b830" /><polygon points="1538,164.8 1538,166.8 1537.8,168.8 1537.4,170.8 1536.7,172.6 1535.8,174.4 1534.7,176 1533.4,177.5 1532,178.8 1530.5,179.9 1528.8,180.8 1527,181.4 1525.2,181.7 1523.4,181.9 1521.5,181.7 1519.7,181.3 1518,180.6 1516.4,179.7 1514.9,178.6 1513.6,177.2 1512.4,175.7 1511.4,174 1510.7,172.2 1510.2,170.2 1509.9,168.2 1509.9,166.2 1510.1,164.2 1510.5,162.2 1511.2,160.3 1512.1,158.5 1513.2,156.8 1514.5,155.4 1516,154.1 1517.6,153 1519.3,152.2 1521.1,151.6 1522.9,151.2 1524.8,151.2 1526.6,151.3 1528.4,151.8 1530.1,152.5 1531.7,153.4 1533.1,154.6 1534.5,156 1535.6,157.5 1536.5,159.2 1537.2,161 1537.7,162.9" fill="#50565e" /><polygon points="1518.1,159.9 1528.9,158.6 1530,173.1 1519.2,174.5" fill="#2aa8e8" /><polygon points="1521.9,161.9 1525.5,161.5 1526.2,171.1 1522.6,171.6" fill="#1878c0" /><path d="M1367.5,35 V46" stroke="#555" stroke-width="1.6"/><rect x="1467.1" y="370.3" width="8.3" height="7.6" fill="#d00d1a"/><rect x="1467.1" y="377.9" width="8.3" height="80.8" fill="#12aaea"/><rect x="1467.1" y="458.6" width="8.3" height="19.2" fill="#70ad47"/><rect x="1491" y="370.3" width="8.3" height="7.6" fill="#d00d1a"/><rect x="1491" y="377.9" width="8.3" height="80.8" fill="#12aaea"/><rect x="1491" y="458.6" width="8.3" height="19.2" fill="#70ad47"/><rect x="1515" y="370.3" width="8.3" height="7.6" fill="#d00d1a"/><rect x="1515" y="377.9" width="8.3" height="80.8" fill="#12aaea"/><rect x="1515" y="458.6" width="8.3" height="19.2" fill="#70ad47"/><rect x="1538.6" y="370.3" width="8.3" height="7.6" fill="#d00d1a"/><rect x="1538.6" y="377.9" width="8.3" height="80.8" fill="#12aaea"/><rect x="1538.6" y="458.6" width="8.3" height="19.2" fill="#70ad47"/><rect x="1563" y="370.3" width="8.3" height="7.6" fill="#d00d1a"/><rect x="1563" y="377.9" width="8.3" height="80.8" fill="#12aaea"/><rect x="1563" y="458.6" width="8.3" height="19.2" fill="#70ad47"/><rect x="1418.6" y="477.6" width="200.8" height="19.6" fill="#70ad47"/><rect x="1419.2" y="497" width="200.2" height="160.2" fill="#12aaea"/><rect x="1396.9" y="657" width="242.6" height="41" fill="#c00000"/><g font-family="'Liberation Sans', Arial, sans-serif" font-weight="bold" fill="#fff" text-anchor="middle"><text x="1519.2" y="494.6" font-size="19" textLength="44" lengthAdjust="spacingAndGlyphs">n+ Si</text><text x="1518.6" y="583.4" font-size="19" textLength="40" lengthAdjust="spacingAndGlyphs">n- Si</text><text x="1517.7" y="684.9" font-size="19" textLength="44" lengthAdjust="spacingAndGlyphs">p+ Si</text></g><path d="M1408,370.2 H1464.5 M1408,377.8 H1464.5 M1408,459 H1464.5 M1403.5,497 H1416 M1407.4,352 V368 M1407.4,380 V457 M1407.4,461.5 V494.5 M1407.4,499.5 V655" stroke="#2a2a2a" stroke-width="1.7" fill="none"/><path d="M1404.4,362.8 L1407.4,369.8 L1410.4,362.8 Z M1404.4,385.3 L1407.4,378.3 L1410.4,385.3 Z M1404.4,451.7 L1407.4,458.7 L1410.4,451.7 Z M1404.4,466.6 L1407.4,459.6 L1410.4,466.6 Z M1404.4,489.2 L1407.4,496.2 L1410.4,489.2 Z M1404.4,504.8 L1407.4,497.8 L1410.4,504.8 Z M1404.4,649.5 L1407.4,656.5 L1410.4,649.5 Z" fill="#1a1a1a"/><g font-family="'Liberation Sans', Arial, sans-serif" font-weight="bold" fill="#2a2a2a"><text transform="translate(1400.8,361.5) rotate(-90)" text-anchor="middle" font-size="14" textLength="48" lengthAdjust="spacingAndGlyphs">0.2 µm</text><text transform="translate(1400.8,420.4) rotate(-90)" text-anchor="middle" font-size="14" textLength="48.8" lengthAdjust="spacingAndGlyphs">2.0 µm</text><text transform="translate(1400.8,482.8) rotate(-90)" text-anchor="middle" font-size="14" textLength="33.3" lengthAdjust="spacingAndGlyphs">1 µm</text><text transform="translate(1400.8,578) rotate(-90)" text-anchor="middle" font-size="14" textLength="48.8" lengthAdjust="spacingAndGlyphs">4.0 µm</text></g><path d="M1603.7,426.3 H1665.5 V446.4 M1665.5,479.8 V506 M1665.5,516 V541.6 H1603.7 V426.3" stroke="#333" stroke-width="1.8" fill="none"/><circle cx="1665.5" cy="463.1" r="16.7" fill="#fff" stroke="#333" stroke-width="1.8"/><text x="1665.5" y="470.5" text-anchor="middle" font-family="'Liberation Sans', Arial, sans-serif" font-size="20" fill="#222">A</text><path d="M1649.8,506.3 H1681.2" stroke="#333" stroke-width="2.2"/><path d="M1655.3,516 H1675.7" stroke="#333" stroke-width="2.2"/><polygon points="1590,449.4 1618.4,449.4 1604.2,469" fill="#000"/><path d="M1589,472 H1618.4 M1589,483.7 H1618.4" stroke="#111" stroke-width="2"/><polygon points="1604.2,485.7 1618.4,506.3 1590,506.3" fill="#000"/><g stroke="#111" stroke-width="1.3" fill="none"><path d="M1565,447 Q1575,447 1578,456"/><path d="M1569,451 Q1576,452 1576,460"/><path d="M1565,489 Q1575,489 1578,498"/><path d="M1569,493 Q1576,494 1576,502"/></g><g fill="#111"><path d="M1575,455 L1582,456 L1578,461 Z"/><path d="M1573,459 L1579,460 L1575,465 Z"/><path d="M1575,497 L1582,498 L1578,503 Z"/><path d="M1573,501 L1579,502 L1575,507 Z"/></g>
<g fill="#000"><text x="51.8" y="70.1" font-family="'Liberation Sans', Arial, sans-serif" font-size="37.1" textLength="45" lengthAdjust="spacingAndGlyphs">(a)</text><text x="51.7" y="415.8" font-family="'Liberation Sans', Arial, sans-serif" font-size="37.6" textLength="46.8" lengthAdjust="spacingAndGlyphs">(b)</text><text x="738.2" y="70.4" font-family="'Liberation Sans', Arial, sans-serif" font-size="37.6" textLength="41.6" lengthAdjust="spacingAndGlyphs">(c)</text><text x="742.9" y="415.8" font-family="'Liberation Sans', Arial, sans-serif" font-size="37.6" textLength="46.5" lengthAdjust="spacingAndGlyphs">(d)</text><text x="1277.9" y="70" font-family="'Liberation Sans', Arial, sans-serif" font-size="37.6" textLength="46" lengthAdjust="spacingAndGlyphs">(e)</text><text x="1294.3" y="415.1" font-family="'Liberation Sans', Arial, sans-serif" font-size="37.1" textLength="37.3" lengthAdjust="spacingAndGlyphs">(f)</text></g>
</svg>
</body></html>
